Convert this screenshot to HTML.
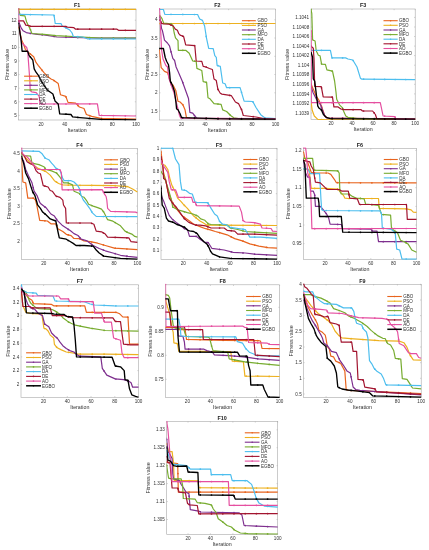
<!DOCTYPE html>
<html><head><meta charset="utf-8"><style>
html,body{margin:0;padding:0;background:#fff;width:429px;height:550px;overflow:hidden}
svg{display:block;font-family:"Liberation Sans",sans-serif}
text{fill:#303030}
text.t{fill:#1a1a1a}
svg{will-change:transform}
</style></head><body>
<svg width="429" height="550" viewBox="0 0 429 550">
<rect width="429" height="550" fill="#fff"/>
<text x="77.2" class="t" y="7.2" font-size="5.4" font-weight="bold" text-anchor="middle" fill="#222">F1</text>
<rect x="18.5" y="9.0" width="117.5" height="111.0" fill="#fff" stroke="#a8a8a8" stroke-width="0.6"/>
<path d="M41.1 120.0v-1.2M41.1 9.0v1.2" stroke="#a8a8a8" stroke-width="0.5"/>
<text x="41.1" y="125.6" font-size="4.6" text-anchor="middle" fill="#3a3a3a">20</text>
<path d="M64.8 120.0v-1.2M64.8 9.0v1.2" stroke="#a8a8a8" stroke-width="0.5"/>
<text x="64.8" y="125.6" font-size="4.6" text-anchor="middle" fill="#3a3a3a">40</text>
<path d="M88.5 120.0v-1.2M88.5 9.0v1.2" stroke="#a8a8a8" stroke-width="0.5"/>
<text x="88.5" y="125.6" font-size="4.6" text-anchor="middle" fill="#3a3a3a">60</text>
<path d="M112.3 120.0v-1.2M112.3 9.0v1.2" stroke="#a8a8a8" stroke-width="0.5"/>
<text x="112.3" y="125.6" font-size="4.6" text-anchor="middle" fill="#3a3a3a">80</text>
<path d="M136.0 120.0v-1.2M136.0 9.0v1.2" stroke="#a8a8a8" stroke-width="0.5"/>
<text x="136.0" y="125.6" font-size="4.6" text-anchor="middle" fill="#3a3a3a">100</text>
<path d="M18.5 115.4h1.2M136.0 115.4h-1.2" stroke="#a8a8a8" stroke-width="0.5"/>
<text x="16.7" y="117.1" font-size="4.6" text-anchor="end" fill="#3a3a3a">5</text>
<path d="M18.5 101.8h1.2M136.0 101.8h-1.2" stroke="#a8a8a8" stroke-width="0.5"/>
<text x="16.7" y="103.5" font-size="4.6" text-anchor="end" fill="#3a3a3a">6</text>
<path d="M18.5 88.2h1.2M136.0 88.2h-1.2" stroke="#a8a8a8" stroke-width="0.5"/>
<text x="16.7" y="89.9" font-size="4.6" text-anchor="end" fill="#3a3a3a">7</text>
<path d="M18.5 74.6h1.2M136.0 74.6h-1.2" stroke="#a8a8a8" stroke-width="0.5"/>
<text x="16.7" y="76.2" font-size="4.6" text-anchor="end" fill="#3a3a3a">8</text>
<path d="M18.5 61.0h1.2M136.0 61.0h-1.2" stroke="#a8a8a8" stroke-width="0.5"/>
<text x="16.7" y="62.6" font-size="4.6" text-anchor="end" fill="#3a3a3a">9</text>
<path d="M18.5 47.4h1.2M136.0 47.4h-1.2" stroke="#a8a8a8" stroke-width="0.5"/>
<text x="16.7" y="49.0" font-size="4.6" text-anchor="end" fill="#3a3a3a">10</text>
<path d="M18.5 33.8h1.2M136.0 33.8h-1.2" stroke="#a8a8a8" stroke-width="0.5"/>
<text x="16.7" y="35.4" font-size="4.6" text-anchor="end" fill="#3a3a3a">11</text>
<path d="M18.5 20.2h1.2M136.0 20.2h-1.2" stroke="#a8a8a8" stroke-width="0.5"/>
<text x="16.7" y="21.8" font-size="4.6" text-anchor="end" fill="#3a3a3a">12</text>
<text x="77.2" y="131.8" font-size="5.3" text-anchor="middle" fill="#3a3a3a">Iteration</text>
<text transform="translate(8.8 64.5) rotate(-90)" x="0" y="0" font-size="5.3" text-anchor="middle" fill="#3a3a3a">Fitness value</text>
<clipPath id="cF1"><rect x="18.5" y="8.0" width="118.0" height="112.5"/></clipPath>
<g clip-path="url(#cF1)" fill="none" stroke-linejoin="round">
<path d="M18.8 27.4 L21.6 40.0 L23.9 45.1 L25.3 49.3 L28.1 52.1 L33.7 56.8 L36.0 62.4 L38.4 65.6 L44.0 72.6 L48.6 77.3 L51.4 79.2 L52.9 79.7 L58.2 83.5 L60.5 94.8 L65.8 96.4 L68.0 102.4 L75.6 103.2 L79.4 107.0 L84.0 108.5 L86.4 114.5 L91.7 116.4 L100.8 118.3 L136.0 119.1" stroke="#E8641E" stroke-width="1.2"/>
<circle cx="18.5" cy="27.4" r="0.85" fill="#E8641E" stroke="none"/>
<circle cx="30.4" cy="54.0" r="0.85" fill="#E8641E" stroke="none"/>
<circle cx="42.2" cy="70.4" r="0.85" fill="#E8641E" stroke="none"/>
<circle cx="54.1" cy="80.6" r="0.85" fill="#E8641E" stroke="none"/>
<circle cx="66.0" cy="96.9" r="0.85" fill="#E8641E" stroke="none"/>
<circle cx="77.8" cy="105.4" r="0.85" fill="#E8641E" stroke="none"/>
<circle cx="89.7" cy="115.7" r="0.85" fill="#E8641E" stroke="none"/>
<circle cx="101.6" cy="118.3" r="0.85" fill="#E8641E" stroke="none"/>
<circle cx="113.4" cy="118.6" r="0.85" fill="#E8641E" stroke="none"/>
<circle cx="125.3" cy="118.9" r="0.85" fill="#E8641E" stroke="none"/>
<path d="M18.5 9.3 L136.0 9.3" stroke="#EDB120" stroke-width="1.2"/>
<circle cx="18.5" cy="9.3" r="0.85" fill="#EDB120" stroke="none"/>
<circle cx="30.4" cy="9.3" r="0.85" fill="#EDB120" stroke="none"/>
<circle cx="42.2" cy="9.3" r="0.85" fill="#EDB120" stroke="none"/>
<circle cx="54.1" cy="9.3" r="0.85" fill="#EDB120" stroke="none"/>
<circle cx="66.0" cy="9.3" r="0.85" fill="#EDB120" stroke="none"/>
<circle cx="77.8" cy="9.3" r="0.85" fill="#EDB120" stroke="none"/>
<circle cx="89.7" cy="9.3" r="0.85" fill="#EDB120" stroke="none"/>
<circle cx="101.6" cy="9.3" r="0.85" fill="#EDB120" stroke="none"/>
<circle cx="113.4" cy="9.3" r="0.85" fill="#EDB120" stroke="none"/>
<circle cx="125.3" cy="9.3" r="0.85" fill="#EDB120" stroke="none"/>
<path d="M18.5 21.0 L21.1 27.9 L23.0 30.7 L26.3 32.6 L30.9 33.5 L37.4 34.4 L44.0 34.9 L57.0 37.0 L100.0 38.2 L136.0 38.2" stroke="#7E2F8E" stroke-width="1.2"/>
<circle cx="18.5" cy="21.0" r="0.85" fill="#7E2F8E" stroke="none"/>
<circle cx="30.4" cy="33.4" r="0.85" fill="#7E2F8E" stroke="none"/>
<circle cx="42.2" cy="34.8" r="0.85" fill="#7E2F8E" stroke="none"/>
<circle cx="54.1" cy="36.5" r="0.85" fill="#7E2F8E" stroke="none"/>
<circle cx="66.0" cy="37.3" r="0.85" fill="#7E2F8E" stroke="none"/>
<circle cx="77.8" cy="37.6" r="0.85" fill="#7E2F8E" stroke="none"/>
<circle cx="89.7" cy="37.9" r="0.85" fill="#7E2F8E" stroke="none"/>
<circle cx="101.6" cy="38.2" r="0.85" fill="#7E2F8E" stroke="none"/>
<circle cx="113.4" cy="38.2" r="0.85" fill="#7E2F8E" stroke="none"/>
<circle cx="125.3" cy="38.2" r="0.85" fill="#7E2F8E" stroke="none"/>
<path d="M18.5 8.8 L20.2 15.3 L24.9 15.8 L26.7 22.3 L28.6 26.0 L30.5 29.8 L31.9 33.5 L44.0 34.4 L56.0 35.7 L100.0 38.0 L136.0 38.0" stroke="#77AC30" stroke-width="1.2"/>
<circle cx="18.5" cy="8.8" r="0.85" fill="#77AC30" stroke="none"/>
<circle cx="30.4" cy="29.5" r="0.85" fill="#77AC30" stroke="none"/>
<circle cx="42.2" cy="34.3" r="0.85" fill="#77AC30" stroke="none"/>
<circle cx="54.1" cy="35.5" r="0.85" fill="#77AC30" stroke="none"/>
<circle cx="66.0" cy="36.2" r="0.85" fill="#77AC30" stroke="none"/>
<circle cx="77.8" cy="36.8" r="0.85" fill="#77AC30" stroke="none"/>
<circle cx="89.7" cy="37.5" r="0.85" fill="#77AC30" stroke="none"/>
<circle cx="101.6" cy="38.0" r="0.85" fill="#77AC30" stroke="none"/>
<circle cx="113.4" cy="38.0" r="0.85" fill="#77AC30" stroke="none"/>
<circle cx="125.3" cy="38.0" r="0.85" fill="#77AC30" stroke="none"/>
<path d="M18.5 14.4 L54.0 15.0 L55.2 23.4 L61.0 23.6 L62.2 26.0 L65.7 27.7 L69.8 30.0 L72.1 33.0 L73.3 36.5 L82.6 37.0 L87.3 38.8 L136.0 39.0" stroke="#4DBEEE" stroke-width="1.2"/>
<circle cx="18.5" cy="14.4" r="0.85" fill="#4DBEEE" stroke="none"/>
<circle cx="30.4" cy="14.6" r="0.85" fill="#4DBEEE" stroke="none"/>
<circle cx="42.2" cy="14.8" r="0.85" fill="#4DBEEE" stroke="none"/>
<circle cx="54.1" cy="15.7" r="0.85" fill="#4DBEEE" stroke="none"/>
<circle cx="66.0" cy="27.9" r="0.85" fill="#4DBEEE" stroke="none"/>
<circle cx="77.8" cy="36.7" r="0.85" fill="#4DBEEE" stroke="none"/>
<circle cx="89.7" cy="38.8" r="0.85" fill="#4DBEEE" stroke="none"/>
<circle cx="101.6" cy="38.9" r="0.85" fill="#4DBEEE" stroke="none"/>
<circle cx="113.4" cy="38.9" r="0.85" fill="#4DBEEE" stroke="none"/>
<circle cx="125.3" cy="39.0" r="0.85" fill="#4DBEEE" stroke="none"/>
<path d="M18.5 20.9 L23.5 20.9 L25.8 25.1 L29.0 25.6 L30.0 26.3 L65.2 26.3 L67.5 27.1 L73.9 27.7 L75.6 29.2 L117.0 29.2 L118.5 30.3 L136.0 30.3" stroke="#A2142F" stroke-width="1.2"/>
<circle cx="18.5" cy="20.9" r="0.85" fill="#A2142F" stroke="none"/>
<circle cx="30.4" cy="26.3" r="0.85" fill="#A2142F" stroke="none"/>
<circle cx="42.2" cy="26.3" r="0.85" fill="#A2142F" stroke="none"/>
<circle cx="54.1" cy="26.3" r="0.85" fill="#A2142F" stroke="none"/>
<circle cx="66.0" cy="26.6" r="0.85" fill="#A2142F" stroke="none"/>
<circle cx="77.8" cy="29.2" r="0.85" fill="#A2142F" stroke="none"/>
<circle cx="89.7" cy="29.2" r="0.85" fill="#A2142F" stroke="none"/>
<circle cx="101.6" cy="29.2" r="0.85" fill="#A2142F" stroke="none"/>
<circle cx="113.4" cy="29.2" r="0.85" fill="#A2142F" stroke="none"/>
<circle cx="125.3" cy="30.3" r="0.85" fill="#A2142F" stroke="none"/>
<path d="M18.5 8.8 L18.8 19.0 L20.2 34.0 L21.6 42.8 L26.7 47.5 L27.7 51.2 L29.8 80.0 L30.2 90.3 L31.7 91.8 L36.2 92.6 L39.2 96.4 L40.0 104.0 L97.4 103.9 L99.2 115.3 L136.0 116.0" stroke="#E54FA0" stroke-width="1.2"/>
<circle cx="18.5" cy="8.8" r="0.85" fill="#E54FA0" stroke="none"/>
<circle cx="30.4" cy="90.5" r="0.85" fill="#E54FA0" stroke="none"/>
<circle cx="42.2" cy="104.0" r="0.85" fill="#E54FA0" stroke="none"/>
<circle cx="54.1" cy="104.0" r="0.85" fill="#E54FA0" stroke="none"/>
<circle cx="66.0" cy="104.0" r="0.85" fill="#E54FA0" stroke="none"/>
<circle cx="77.8" cy="103.9" r="0.85" fill="#E54FA0" stroke="none"/>
<circle cx="89.7" cy="103.9" r="0.85" fill="#E54FA0" stroke="none"/>
<circle cx="101.6" cy="115.3" r="0.85" fill="#E54FA0" stroke="none"/>
<circle cx="113.4" cy="115.6" r="0.85" fill="#E54FA0" stroke="none"/>
<circle cx="125.3" cy="115.8" r="0.85" fill="#E54FA0" stroke="none"/>
<path d="M18.5 23.2 L21.1 40.0 L22.1 51.2 L27.7 51.2 L29.0 55.4 L32.8 60.0 L34.2 68.9 L36.0 72.2 L38.4 75.4 L40.7 80.0 L43.8 85.0 L47.6 90.3 L52.9 94.0 L55.0 100.9 L58.2 104.0 L59.7 113.8 L71.0 114.5 L72.6 116.8 L80.0 117.6 L100.8 119.4 L136.0 119.8" stroke="#000000" stroke-width="1.35"/>
<circle cx="18.5" cy="23.2" r="0.85" fill="#000000" stroke="none"/>
<circle cx="30.4" cy="57.1" r="0.85" fill="#000000" stroke="none"/>
<circle cx="42.2" cy="82.5" r="0.85" fill="#000000" stroke="none"/>
<circle cx="54.1" cy="98.0" r="0.85" fill="#000000" stroke="none"/>
<circle cx="66.0" cy="114.2" r="0.85" fill="#000000" stroke="none"/>
<circle cx="77.8" cy="117.4" r="0.85" fill="#000000" stroke="none"/>
<circle cx="89.7" cy="118.4" r="0.85" fill="#000000" stroke="none"/>
<circle cx="101.6" cy="119.4" r="0.85" fill="#000000" stroke="none"/>
<circle cx="113.4" cy="119.5" r="0.85" fill="#000000" stroke="none"/>
<circle cx="125.3" cy="119.7" r="0.85" fill="#000000" stroke="none"/>
</g>
<path d="M24.1 76.2H37.9" stroke="#E8641E" stroke-width="1.1"/>
<circle cx="31.0" cy="76.2" r="0.8" fill="#E8641E"/>
<text x="39.2" y="77.9" font-size="4.5" fill="#222">GBO</text>
<path d="M24.1 80.8H37.9" stroke="#EDB120" stroke-width="1.1"/>
<circle cx="31.0" cy="80.8" r="0.8" fill="#EDB120"/>
<text x="39.2" y="82.5" font-size="4.5" fill="#222">PSO</text>
<path d="M24.1 85.3H37.9" stroke="#7E2F8E" stroke-width="1.1"/>
<circle cx="31.0" cy="85.3" r="0.8" fill="#7E2F8E"/>
<text x="39.2" y="87.0" font-size="4.5" fill="#222">GA</text>
<path d="M24.1 89.9H37.9" stroke="#77AC30" stroke-width="1.1"/>
<circle cx="31.0" cy="89.9" r="0.8" fill="#77AC30"/>
<text x="39.2" y="91.6" font-size="4.5" fill="#222">MFO</text>
<path d="M24.1 94.5H37.9" stroke="#4DBEEE" stroke-width="1.1"/>
<circle cx="31.0" cy="94.5" r="0.8" fill="#4DBEEE"/>
<text x="39.2" y="96.2" font-size="4.5" fill="#222">DA</text>
<path d="M24.1 99.1H37.9" stroke="#A2142F" stroke-width="1.1"/>
<circle cx="31.0" cy="99.1" r="0.8" fill="#A2142F"/>
<text x="39.2" y="100.8" font-size="4.5" fill="#222">DE</text>
<path d="M24.1 103.6H37.9" stroke="#E54FA0" stroke-width="1.1"/>
<circle cx="31.0" cy="103.6" r="0.8" fill="#E54FA0"/>
<text x="39.2" y="105.3" font-size="4.5" fill="#222">AO</text>
<path d="M24.1 108.2H37.9" stroke="#000000" stroke-width="1.5"/>
<circle cx="31.0" cy="108.2" r="0.8" fill="#000000"/>
<text x="39.2" y="109.9" font-size="4.5" fill="#222">EGBO</text>
<text x="217.4" class="t" y="7.2" font-size="5.4" font-weight="bold" text-anchor="middle" fill="#222">F2</text>
<rect x="159.3" y="9.0" width="116.2" height="111.0" fill="#fff" stroke="#a8a8a8" stroke-width="0.6"/>
<path d="M181.6 120.0v-1.2M181.6 9.0v1.2" stroke="#a8a8a8" stroke-width="0.5"/>
<text x="181.6" y="125.6" font-size="4.6" text-anchor="middle" fill="#3a3a3a">20</text>
<path d="M205.1 120.0v-1.2M205.1 9.0v1.2" stroke="#a8a8a8" stroke-width="0.5"/>
<text x="205.1" y="125.6" font-size="4.6" text-anchor="middle" fill="#3a3a3a">40</text>
<path d="M228.6 120.0v-1.2M228.6 9.0v1.2" stroke="#a8a8a8" stroke-width="0.5"/>
<text x="228.6" y="125.6" font-size="4.6" text-anchor="middle" fill="#3a3a3a">60</text>
<path d="M252.0 120.0v-1.2M252.0 9.0v1.2" stroke="#a8a8a8" stroke-width="0.5"/>
<text x="252.0" y="125.6" font-size="4.6" text-anchor="middle" fill="#3a3a3a">80</text>
<path d="M275.5 120.0v-1.2M275.5 9.0v1.2" stroke="#a8a8a8" stroke-width="0.5"/>
<text x="275.5" y="125.6" font-size="4.6" text-anchor="middle" fill="#3a3a3a">100</text>
<path d="M159.3 111.0h1.2M275.5 111.0h-1.2" stroke="#a8a8a8" stroke-width="0.5"/>
<text x="157.5" y="112.7" font-size="4.6" text-anchor="end" fill="#3a3a3a">1.5</text>
<path d="M159.3 92.8h1.2M275.5 92.8h-1.2" stroke="#a8a8a8" stroke-width="0.5"/>
<text x="157.5" y="94.4" font-size="4.6" text-anchor="end" fill="#3a3a3a">2</text>
<path d="M159.3 74.5h1.2M275.5 74.5h-1.2" stroke="#a8a8a8" stroke-width="0.5"/>
<text x="157.5" y="76.2" font-size="4.6" text-anchor="end" fill="#3a3a3a">2.5</text>
<path d="M159.3 56.3h1.2M275.5 56.3h-1.2" stroke="#a8a8a8" stroke-width="0.5"/>
<text x="157.5" y="57.9" font-size="4.6" text-anchor="end" fill="#3a3a3a">3</text>
<path d="M159.3 38.0h1.2M275.5 38.0h-1.2" stroke="#a8a8a8" stroke-width="0.5"/>
<text x="157.5" y="39.7" font-size="4.6" text-anchor="end" fill="#3a3a3a">3.5</text>
<path d="M159.3 19.8h1.2M275.5 19.8h-1.2" stroke="#a8a8a8" stroke-width="0.5"/>
<text x="157.5" y="21.4" font-size="4.6" text-anchor="end" fill="#3a3a3a">4</text>
<text x="217.4" y="131.8" font-size="5.3" text-anchor="middle" fill="#3a3a3a">Iteration</text>
<text transform="translate(148.7 64.5) rotate(-90)" x="0" y="0" font-size="5.3" text-anchor="middle" fill="#3a3a3a">Fitness value</text>
<clipPath id="cF2"><rect x="159.3" y="8.0" width="116.7" height="112.5"/></clipPath>
<g clip-path="url(#cF2)" fill="none" stroke-linejoin="round">
<path d="M159.3 50.0 L161.2 67.7 L162.6 69.2 L164.5 71.4 L167.5 72.6 L171.0 83.1 L173.1 85.2 L175.9 90.8 L178.0 101.3 L180.1 102.0 L182.9 104.8 L185.0 109.7 L186.4 117.3 L190.0 118.3 L275.5 119.0" stroke="#E8641E" stroke-width="1.2"/>
<circle cx="159.3" cy="50.0" r="0.85" fill="#E8641E" stroke="none"/>
<circle cx="171.0" cy="83.1" r="0.85" fill="#E8641E" stroke="none"/>
<circle cx="182.8" cy="104.7" r="0.85" fill="#E8641E" stroke="none"/>
<circle cx="194.5" cy="118.3" r="0.85" fill="#E8641E" stroke="none"/>
<circle cx="206.2" cy="118.4" r="0.85" fill="#E8641E" stroke="none"/>
<circle cx="218.0" cy="118.5" r="0.85" fill="#E8641E" stroke="none"/>
<circle cx="229.7" cy="118.6" r="0.85" fill="#E8641E" stroke="none"/>
<circle cx="241.5" cy="118.7" r="0.85" fill="#E8641E" stroke="none"/>
<circle cx="253.2" cy="118.8" r="0.85" fill="#E8641E" stroke="none"/>
<circle cx="264.9" cy="118.9" r="0.85" fill="#E8641E" stroke="none"/>
<path d="M159.3 23.5 L275.5 23.5" stroke="#EDB120" stroke-width="1.2"/>
<circle cx="159.3" cy="23.5" r="0.85" fill="#EDB120" stroke="none"/>
<circle cx="171.0" cy="23.5" r="0.85" fill="#EDB120" stroke="none"/>
<circle cx="182.8" cy="23.5" r="0.85" fill="#EDB120" stroke="none"/>
<circle cx="194.5" cy="23.5" r="0.85" fill="#EDB120" stroke="none"/>
<circle cx="206.2" cy="23.5" r="0.85" fill="#EDB120" stroke="none"/>
<circle cx="218.0" cy="23.5" r="0.85" fill="#EDB120" stroke="none"/>
<circle cx="229.7" cy="23.5" r="0.85" fill="#EDB120" stroke="none"/>
<circle cx="241.5" cy="23.5" r="0.85" fill="#EDB120" stroke="none"/>
<circle cx="253.2" cy="23.5" r="0.85" fill="#EDB120" stroke="none"/>
<circle cx="264.9" cy="23.5" r="0.85" fill="#EDB120" stroke="none"/>
<path d="M159.9 16.9 L161.6 28.8 L162.3 30.2 L163.4 35.0 L164.5 40.1 L167.4 43.0 L169.5 45.9 L171.0 51.7 L172.8 58.3 L174.6 60.5 L176.1 67.0 L178.0 71.2 L182.2 81.0 L185.7 90.8 L188.5 98.5 L189.9 112.4 L192.7 113.1 L194.8 115.9 L196.9 118.5 L275.5 119.0" stroke="#7E2F8E" stroke-width="1.2"/>
<circle cx="159.3" cy="16.9" r="0.85" fill="#7E2F8E" stroke="none"/>
<circle cx="171.0" cy="51.8" r="0.85" fill="#7E2F8E" stroke="none"/>
<circle cx="182.8" cy="82.6" r="0.85" fill="#7E2F8E" stroke="none"/>
<circle cx="194.5" cy="115.5" r="0.85" fill="#7E2F8E" stroke="none"/>
<circle cx="206.2" cy="118.6" r="0.85" fill="#7E2F8E" stroke="none"/>
<circle cx="218.0" cy="118.6" r="0.85" fill="#7E2F8E" stroke="none"/>
<circle cx="229.7" cy="118.7" r="0.85" fill="#7E2F8E" stroke="none"/>
<circle cx="241.5" cy="118.8" r="0.85" fill="#7E2F8E" stroke="none"/>
<circle cx="253.2" cy="118.9" r="0.85" fill="#7E2F8E" stroke="none"/>
<circle cx="264.9" cy="118.9" r="0.85" fill="#7E2F8E" stroke="none"/>
<path d="M159.9 15.5 L162.0 18.6 L163.7 23.2 L171.1 23.9 L172.8 25.3 L174.2 33.0 L175.5 37.9 L178.0 40.7 L178.3 50.3 L185.7 50.3 L189.2 53.3 L192.7 61.0 L196.2 61.4 L196.9 68.4 L201.8 70.5 L203.2 81.7 L206.6 82.4 L208.0 97.8 L210.0 98.8 L214.0 103.6 L221.1 104.4 L222.7 109.9 L226.6 111.5 L230.6 115.5 L233.8 117.8 L241.7 119.0 L275.5 119.0" stroke="#77AC30" stroke-width="1.2"/>
<circle cx="159.3" cy="15.5" r="0.85" fill="#77AC30" stroke="none"/>
<circle cx="171.0" cy="23.9" r="0.85" fill="#77AC30" stroke="none"/>
<circle cx="182.8" cy="50.3" r="0.85" fill="#77AC30" stroke="none"/>
<circle cx="194.5" cy="61.2" r="0.85" fill="#77AC30" stroke="none"/>
<circle cx="206.2" cy="82.3" r="0.85" fill="#77AC30" stroke="none"/>
<circle cx="218.0" cy="104.0" r="0.85" fill="#77AC30" stroke="none"/>
<circle cx="229.7" cy="114.6" r="0.85" fill="#77AC30" stroke="none"/>
<circle cx="241.5" cy="119.0" r="0.85" fill="#77AC30" stroke="none"/>
<circle cx="253.2" cy="119.0" r="0.85" fill="#77AC30" stroke="none"/>
<circle cx="264.9" cy="119.0" r="0.85" fill="#77AC30" stroke="none"/>
<path d="M159.5 9.5 L163.4 9.5 L164.8 14.3 L197.6 14.5 L199.7 19.0 L202.5 20.4 L204.6 26.0 L206.6 38.6 L208.7 48.4 L213.2 48.6 L214.8 55.7 L216.3 57.3 L217.1 65.5 L220.3 66.3 L222.7 83.0 L225.1 83.8 L226.6 87.7 L240.1 87.7 L244.1 101.2 L252.8 101.5 L256.0 107.5 L260.7 114.7 L264.7 117.8 L275.5 118.6" stroke="#4DBEEE" stroke-width="1.2"/>
<circle cx="159.3" cy="9.5" r="0.85" fill="#4DBEEE" stroke="none"/>
<circle cx="171.0" cy="14.3" r="0.85" fill="#4DBEEE" stroke="none"/>
<circle cx="182.8" cy="14.4" r="0.85" fill="#4DBEEE" stroke="none"/>
<circle cx="194.5" cy="14.5" r="0.85" fill="#4DBEEE" stroke="none"/>
<circle cx="206.2" cy="36.4" r="0.85" fill="#4DBEEE" stroke="none"/>
<circle cx="218.0" cy="65.7" r="0.85" fill="#4DBEEE" stroke="none"/>
<circle cx="229.7" cy="87.7" r="0.85" fill="#4DBEEE" stroke="none"/>
<circle cx="241.5" cy="92.3" r="0.85" fill="#4DBEEE" stroke="none"/>
<circle cx="253.2" cy="102.2" r="0.85" fill="#4DBEEE" stroke="none"/>
<circle cx="264.9" cy="117.8" r="0.85" fill="#4DBEEE" stroke="none"/>
<path d="M159.5 20.0 L160.9 21.1 L161.6 23.2 L163.4 23.9 L169.0 24.2 L173.2 26.0 L175.3 29.1 L177.4 30.2 L178.8 33.7 L180.1 35.1 L183.6 36.5 L185.7 44.9 L194.8 45.6 L196.2 61.0 L201.8 61.4 L203.2 66.3 L206.0 67.0 L209.4 68.5 L212.4 69.5 L214.0 79.0 L216.3 80.6 L217.9 89.3 L220.3 93.3 L221.9 94.1 L231.4 95.7 L235.4 102.0 L238.5 103.6 L241.7 109.9 L243.3 115.5 L256.0 117.0 L263.9 118.6 L275.5 119.0" stroke="#A2142F" stroke-width="1.2"/>
<circle cx="159.3" cy="20.0" r="0.85" fill="#A2142F" stroke="none"/>
<circle cx="171.0" cy="25.1" r="0.85" fill="#A2142F" stroke="none"/>
<circle cx="182.8" cy="36.2" r="0.85" fill="#A2142F" stroke="none"/>
<circle cx="194.5" cy="45.6" r="0.85" fill="#A2142F" stroke="none"/>
<circle cx="206.2" cy="67.1" r="0.85" fill="#A2142F" stroke="none"/>
<circle cx="218.0" cy="89.4" r="0.85" fill="#A2142F" stroke="none"/>
<circle cx="229.7" cy="95.4" r="0.85" fill="#A2142F" stroke="none"/>
<circle cx="241.5" cy="109.4" r="0.85" fill="#A2142F" stroke="none"/>
<circle cx="253.2" cy="116.7" r="0.85" fill="#A2142F" stroke="none"/>
<circle cx="264.9" cy="118.6" r="0.85" fill="#A2142F" stroke="none"/>
<path d="M159.5 8.5 L160.9 35.0 L161.5 49.5 L163.0 59.0 L165.9 65.5 L167.5 67.0 L168.9 78.2 L171.7 86.6 L173.8 92.2 L176.6 103.4 L178.0 109.0 L179.4 115.2 L180.8 118.2 L275.5 118.8" stroke="#E54FA0" stroke-width="1.2"/>
<circle cx="159.3" cy="8.5" r="0.85" fill="#E54FA0" stroke="none"/>
<circle cx="171.0" cy="84.6" r="0.85" fill="#E54FA0" stroke="none"/>
<circle cx="182.8" cy="118.2" r="0.85" fill="#E54FA0" stroke="none"/>
<circle cx="194.5" cy="118.3" r="0.85" fill="#E54FA0" stroke="none"/>
<circle cx="206.2" cy="118.4" r="0.85" fill="#E54FA0" stroke="none"/>
<circle cx="218.0" cy="118.4" r="0.85" fill="#E54FA0" stroke="none"/>
<circle cx="229.7" cy="118.5" r="0.85" fill="#E54FA0" stroke="none"/>
<circle cx="241.5" cy="118.6" r="0.85" fill="#E54FA0" stroke="none"/>
<circle cx="253.2" cy="118.7" r="0.85" fill="#E54FA0" stroke="none"/>
<circle cx="264.9" cy="118.7" r="0.85" fill="#E54FA0" stroke="none"/>
<path d="M159.4 48.5 L163.4 48.5 L165.2 57.5 L166.6 61.2 L168.5 64.8 L169.6 72.6 L170.3 81.0 L172.4 85.2 L174.5 91.5 L175.9 102.0 L176.6 109.0 L178.0 109.7 L180.1 113.8 L181.5 117.6 L217.0 118.7 L275.5 119.2" stroke="#000000" stroke-width="1.35"/>
<circle cx="159.3" cy="48.5" r="0.85" fill="#000000" stroke="none"/>
<circle cx="171.0" cy="82.5" r="0.85" fill="#000000" stroke="none"/>
<circle cx="182.8" cy="117.6" r="0.85" fill="#000000" stroke="none"/>
<circle cx="194.5" cy="118.0" r="0.85" fill="#000000" stroke="none"/>
<circle cx="206.2" cy="118.4" r="0.85" fill="#000000" stroke="none"/>
<circle cx="218.0" cy="118.7" r="0.85" fill="#000000" stroke="none"/>
<circle cx="229.7" cy="118.8" r="0.85" fill="#000000" stroke="none"/>
<circle cx="241.5" cy="118.9" r="0.85" fill="#000000" stroke="none"/>
<circle cx="253.2" cy="119.0" r="0.85" fill="#000000" stroke="none"/>
<circle cx="264.9" cy="119.1" r="0.85" fill="#000000" stroke="none"/>
</g>
<path d="M241.9 20.7H255.9" stroke="#E8641E" stroke-width="1.1"/>
<circle cx="248.9" cy="20.7" r="0.8" fill="#E8641E"/>
<text x="257.6" y="22.4" font-size="4.5" fill="#222">GBO</text>
<path d="M241.9 25.4H255.9" stroke="#EDB120" stroke-width="1.1"/>
<circle cx="248.9" cy="25.4" r="0.8" fill="#EDB120"/>
<text x="257.6" y="27.1" font-size="4.5" fill="#222">PSO</text>
<path d="M241.9 30.0H255.9" stroke="#7E2F8E" stroke-width="1.1"/>
<circle cx="248.9" cy="30.0" r="0.8" fill="#7E2F8E"/>
<text x="257.6" y="31.7" font-size="4.5" fill="#222">GA</text>
<path d="M241.9 34.7H255.9" stroke="#77AC30" stroke-width="1.1"/>
<circle cx="248.9" cy="34.7" r="0.8" fill="#77AC30"/>
<text x="257.6" y="36.4" font-size="4.5" fill="#222">MFO</text>
<path d="M241.9 39.3H255.9" stroke="#4DBEEE" stroke-width="1.1"/>
<circle cx="248.9" cy="39.3" r="0.8" fill="#4DBEEE"/>
<text x="257.6" y="41.0" font-size="4.5" fill="#222">DA</text>
<path d="M241.9 44.0H255.9" stroke="#A2142F" stroke-width="1.1"/>
<circle cx="248.9" cy="44.0" r="0.8" fill="#A2142F"/>
<text x="257.6" y="45.7" font-size="4.5" fill="#222">DE</text>
<path d="M241.9 48.7H255.9" stroke="#E54FA0" stroke-width="1.1"/>
<circle cx="248.9" cy="48.7" r="0.8" fill="#E54FA0"/>
<text x="257.6" y="50.4" font-size="4.5" fill="#222">AO</text>
<path d="M241.9 53.3H255.9" stroke="#000000" stroke-width="1.5"/>
<circle cx="248.9" cy="53.3" r="0.8" fill="#000000"/>
<text x="257.6" y="55.0" font-size="4.5" fill="#222">EGBO</text>
<text x="363.1" class="t" y="7.2" font-size="5.4" font-weight="bold" text-anchor="middle" fill="#222">F3</text>
<rect x="311.0" y="9.0" width="104.2" height="110.6" fill="#fff" stroke="#a8a8a8" stroke-width="0.6"/>
<path d="M331.0 119.6v-1.2M331.0 9.0v1.2" stroke="#a8a8a8" stroke-width="0.5"/>
<text x="331.0" y="125.2" font-size="4.6" text-anchor="middle" fill="#3a3a3a">20</text>
<path d="M352.0 119.6v-1.2M352.0 9.0v1.2" stroke="#a8a8a8" stroke-width="0.5"/>
<text x="352.0" y="125.2" font-size="4.6" text-anchor="middle" fill="#3a3a3a">40</text>
<path d="M373.1 119.6v-1.2M373.1 9.0v1.2" stroke="#a8a8a8" stroke-width="0.5"/>
<text x="373.1" y="125.2" font-size="4.6" text-anchor="middle" fill="#3a3a3a">60</text>
<path d="M394.1 119.6v-1.2M394.1 9.0v1.2" stroke="#a8a8a8" stroke-width="0.5"/>
<text x="394.1" y="125.2" font-size="4.6" text-anchor="middle" fill="#3a3a3a">80</text>
<path d="M415.2 119.6v-1.2M415.2 9.0v1.2" stroke="#a8a8a8" stroke-width="0.5"/>
<text x="415.2" y="125.2" font-size="4.6" text-anchor="middle" fill="#3a3a3a">100</text>
<path d="M311.0 113.0h1.2M415.2 113.0h-1.2" stroke="#a8a8a8" stroke-width="0.5"/>
<text x="309.2" y="114.7" font-size="4.6" text-anchor="end" fill="#3a3a3a">1.1039</text>
<path d="M311.0 103.4h1.2M415.2 103.4h-1.2" stroke="#a8a8a8" stroke-width="0.5"/>
<text x="309.2" y="105.1" font-size="4.6" text-anchor="end" fill="#3a3a3a">1.10392</text>
<path d="M311.0 93.9h1.2M415.2 93.9h-1.2" stroke="#a8a8a8" stroke-width="0.5"/>
<text x="309.2" y="95.5" font-size="4.6" text-anchor="end" fill="#3a3a3a">1.10394</text>
<path d="M311.0 84.3h1.2M415.2 84.3h-1.2" stroke="#a8a8a8" stroke-width="0.5"/>
<text x="309.2" y="86.0" font-size="4.6" text-anchor="end" fill="#3a3a3a">1.10396</text>
<path d="M311.0 74.8h1.2M415.2 74.8h-1.2" stroke="#a8a8a8" stroke-width="0.5"/>
<text x="309.2" y="76.4" font-size="4.6" text-anchor="end" fill="#3a3a3a">1.10398</text>
<path d="M311.0 65.2h1.2M415.2 65.2h-1.2" stroke="#a8a8a8" stroke-width="0.5"/>
<text x="309.2" y="66.8" font-size="4.6" text-anchor="end" fill="#3a3a3a">1.104</text>
<path d="M311.0 55.6h1.2M415.2 55.6h-1.2" stroke="#a8a8a8" stroke-width="0.5"/>
<text x="309.2" y="57.3" font-size="4.6" text-anchor="end" fill="#3a3a3a">1.10402</text>
<path d="M311.0 46.1h1.2M415.2 46.1h-1.2" stroke="#a8a8a8" stroke-width="0.5"/>
<text x="309.2" y="47.7" font-size="4.6" text-anchor="end" fill="#3a3a3a">1.10404</text>
<path d="M311.0 36.5h1.2M415.2 36.5h-1.2" stroke="#a8a8a8" stroke-width="0.5"/>
<text x="309.2" y="38.2" font-size="4.6" text-anchor="end" fill="#3a3a3a">1.10406</text>
<path d="M311.0 27.0h1.2M415.2 27.0h-1.2" stroke="#a8a8a8" stroke-width="0.5"/>
<text x="309.2" y="28.6" font-size="4.6" text-anchor="end" fill="#3a3a3a">1.10408</text>
<path d="M311.0 17.4h1.2M415.2 17.4h-1.2" stroke="#a8a8a8" stroke-width="0.5"/>
<text x="309.2" y="19.0" font-size="4.6" text-anchor="end" fill="#3a3a3a">1.1041</text>
<text x="363.1" y="131.4" font-size="5.3" text-anchor="middle" fill="#3a3a3a">Iteration</text>
<text transform="translate(289.0 64.3) rotate(-90)" x="0" y="0" font-size="5.3" text-anchor="middle" fill="#3a3a3a">Fitness value</text>
<clipPath id="cF3"><rect x="311.0" y="8.0" width="104.7" height="112.1"/></clipPath>
<g clip-path="url(#cF3)" fill="none" stroke-linejoin="round">
<path d="M311.1 83.9 L312.5 87.5 L314.3 91.5 L316.4 96.4 L319.2 100.6 L322.0 107.6 L324.8 116.0 L327.6 118.0 L415.2 119.2" stroke="#E8641E" stroke-width="1.2"/>
<circle cx="311.0" cy="83.9" r="0.85" fill="#E8641E" stroke="none"/>
<circle cx="321.5" cy="106.4" r="0.85" fill="#E8641E" stroke="none"/>
<circle cx="332.1" cy="118.1" r="0.85" fill="#E8641E" stroke="none"/>
<circle cx="342.6" cy="118.2" r="0.85" fill="#E8641E" stroke="none"/>
<circle cx="353.1" cy="118.3" r="0.85" fill="#E8641E" stroke="none"/>
<circle cx="363.6" cy="118.5" r="0.85" fill="#E8641E" stroke="none"/>
<circle cx="374.2" cy="118.6" r="0.85" fill="#E8641E" stroke="none"/>
<circle cx="384.7" cy="118.8" r="0.85" fill="#E8641E" stroke="none"/>
<circle cx="395.2" cy="118.9" r="0.85" fill="#E8641E" stroke="none"/>
<circle cx="405.7" cy="119.1" r="0.85" fill="#E8641E" stroke="none"/>
<path d="M311.1 102.0 L312.2 110.3 L314.3 116.0 L317.8 119.4 L326.2 119.8 L415.2 119.8" stroke="#EDB120" stroke-width="1.2"/>
<circle cx="311.0" cy="102.0" r="0.85" fill="#EDB120" stroke="none"/>
<circle cx="321.5" cy="119.6" r="0.85" fill="#EDB120" stroke="none"/>
<circle cx="332.1" cy="119.8" r="0.85" fill="#EDB120" stroke="none"/>
<circle cx="342.6" cy="119.8" r="0.85" fill="#EDB120" stroke="none"/>
<circle cx="353.1" cy="119.8" r="0.85" fill="#EDB120" stroke="none"/>
<circle cx="363.6" cy="119.8" r="0.85" fill="#EDB120" stroke="none"/>
<circle cx="374.2" cy="119.8" r="0.85" fill="#EDB120" stroke="none"/>
<circle cx="384.7" cy="119.8" r="0.85" fill="#EDB120" stroke="none"/>
<circle cx="395.2" cy="119.8" r="0.85" fill="#EDB120" stroke="none"/>
<circle cx="405.7" cy="119.8" r="0.85" fill="#EDB120" stroke="none"/>
<path d="M311.1 86.1 L312.9 92.2 L316.4 99.2 L320.6 104.8 L322.0 109.0 L324.8 116.0 L326.9 118.0 L415.2 119.2" stroke="#7E2F8E" stroke-width="1.2"/>
<circle cx="311.0" cy="86.1" r="0.85" fill="#7E2F8E" stroke="none"/>
<circle cx="321.5" cy="107.6" r="0.85" fill="#7E2F8E" stroke="none"/>
<circle cx="332.1" cy="118.1" r="0.85" fill="#7E2F8E" stroke="none"/>
<circle cx="342.6" cy="118.2" r="0.85" fill="#7E2F8E" stroke="none"/>
<circle cx="353.1" cy="118.4" r="0.85" fill="#7E2F8E" stroke="none"/>
<circle cx="363.6" cy="118.5" r="0.85" fill="#7E2F8E" stroke="none"/>
<circle cx="374.2" cy="118.6" r="0.85" fill="#7E2F8E" stroke="none"/>
<circle cx="384.7" cy="118.8" r="0.85" fill="#7E2F8E" stroke="none"/>
<circle cx="395.2" cy="118.9" r="0.85" fill="#7E2F8E" stroke="none"/>
<circle cx="405.7" cy="119.1" r="0.85" fill="#7E2F8E" stroke="none"/>
<path d="M311.0 9.4 L311.8 13.7 L312.6 39.9 L315.1 41.0 L316.2 50.8 L318.4 55.2 L320.0 55.7 L321.6 64.2 L325.4 64.4 L326.9 69.8 L332.5 71.2 L334.6 81.0 L336.0 92.2 L336.7 99.2 L339.5 104.8 L342.3 107.6 L344.4 113.1 L345.8 115.9 L347.9 117.3 L357.0 118.7 L415.2 119.3" stroke="#77AC30" stroke-width="1.2"/>
<circle cx="311.0" cy="9.4" r="0.85" fill="#77AC30" stroke="none"/>
<circle cx="321.5" cy="63.8" r="0.85" fill="#77AC30" stroke="none"/>
<circle cx="332.1" cy="71.1" r="0.85" fill="#77AC30" stroke="none"/>
<circle cx="342.6" cy="108.3" r="0.85" fill="#77AC30" stroke="none"/>
<circle cx="353.1" cy="118.1" r="0.85" fill="#77AC30" stroke="none"/>
<circle cx="363.6" cy="118.8" r="0.85" fill="#77AC30" stroke="none"/>
<circle cx="374.2" cy="118.9" r="0.85" fill="#77AC30" stroke="none"/>
<circle cx="384.7" cy="119.0" r="0.85" fill="#77AC30" stroke="none"/>
<circle cx="395.2" cy="119.1" r="0.85" fill="#77AC30" stroke="none"/>
<circle cx="405.7" cy="119.2" r="0.85" fill="#77AC30" stroke="none"/>
<path d="M311.0 50.3 L330.4 50.3 L332.0 57.9 L345.6 57.9 L348.0 59.0 L352.8 60.0 L357.0 67.0 L360.4 78.2 L361.8 79.2 L415.2 79.6" stroke="#4DBEEE" stroke-width="1.2"/>
<circle cx="311.0" cy="50.3" r="0.85" fill="#4DBEEE" stroke="none"/>
<circle cx="321.5" cy="50.3" r="0.85" fill="#4DBEEE" stroke="none"/>
<circle cx="332.1" cy="57.9" r="0.85" fill="#4DBEEE" stroke="none"/>
<circle cx="342.6" cy="57.9" r="0.85" fill="#4DBEEE" stroke="none"/>
<circle cx="353.1" cy="60.5" r="0.85" fill="#4DBEEE" stroke="none"/>
<circle cx="363.6" cy="79.2" r="0.85" fill="#4DBEEE" stroke="none"/>
<circle cx="374.2" cy="79.3" r="0.85" fill="#4DBEEE" stroke="none"/>
<circle cx="384.7" cy="79.4" r="0.85" fill="#4DBEEE" stroke="none"/>
<circle cx="395.2" cy="79.5" r="0.85" fill="#4DBEEE" stroke="none"/>
<circle cx="405.7" cy="79.5" r="0.85" fill="#4DBEEE" stroke="none"/>
<path d="M311.0 46.1 L313.3 48.3 L314.0 58.5 L314.7 86.3 L321.3 86.6 L323.2 96.8 L332.5 97.1 L333.9 106.9 L338.1 106.9 L340.9 109.0 L344.4 109.7 L361.1 109.7 L362.5 111.0 L372.6 111.0 L375.4 114.5 L376.8 118.7 L415.2 119.2" stroke="#A2142F" stroke-width="1.2"/>
<circle cx="311.0" cy="46.1" r="0.85" fill="#A2142F" stroke="none"/>
<circle cx="321.5" cy="87.8" r="0.85" fill="#A2142F" stroke="none"/>
<circle cx="332.1" cy="97.1" r="0.85" fill="#A2142F" stroke="none"/>
<circle cx="342.6" cy="109.3" r="0.85" fill="#A2142F" stroke="none"/>
<circle cx="353.1" cy="109.7" r="0.85" fill="#A2142F" stroke="none"/>
<circle cx="363.6" cy="111.0" r="0.85" fill="#A2142F" stroke="none"/>
<circle cx="374.2" cy="112.9" r="0.85" fill="#A2142F" stroke="none"/>
<circle cx="384.7" cy="118.8" r="0.85" fill="#A2142F" stroke="none"/>
<circle cx="395.2" cy="118.9" r="0.85" fill="#A2142F" stroke="none"/>
<circle cx="405.7" cy="119.1" r="0.85" fill="#A2142F" stroke="none"/>
<path d="M311.1 30.8 L311.3 102.7 L380.3 102.7 L383.1 116.0 L395.0 116.6 L395.7 119.0 L415.2 119.2" stroke="#E54FA0" stroke-width="1.2"/>
<circle cx="311.0" cy="30.8" r="0.85" fill="#E54FA0" stroke="none"/>
<circle cx="321.5" cy="102.7" r="0.85" fill="#E54FA0" stroke="none"/>
<circle cx="332.1" cy="102.7" r="0.85" fill="#E54FA0" stroke="none"/>
<circle cx="342.6" cy="102.7" r="0.85" fill="#E54FA0" stroke="none"/>
<circle cx="353.1" cy="102.7" r="0.85" fill="#E54FA0" stroke="none"/>
<circle cx="363.6" cy="102.7" r="0.85" fill="#E54FA0" stroke="none"/>
<circle cx="374.2" cy="102.7" r="0.85" fill="#E54FA0" stroke="none"/>
<circle cx="384.7" cy="116.1" r="0.85" fill="#E54FA0" stroke="none"/>
<circle cx="395.2" cy="117.3" r="0.85" fill="#E54FA0" stroke="none"/>
<circle cx="405.7" cy="119.1" r="0.85" fill="#E54FA0" stroke="none"/>
<path d="M311.1 52.6 L312.5 57.0 L313.3 78.8 L314.7 81.0 L316.2 93.4 L317.8 106.2 L319.2 108.3 L321.3 109.7 L323.4 114.5 L326.2 117.3 L330.4 118.7 L415.2 119.2" stroke="#000000" stroke-width="1.35"/>
<circle cx="311.0" cy="52.6" r="0.85" fill="#000000" stroke="none"/>
<circle cx="321.5" cy="110.2" r="0.85" fill="#000000" stroke="none"/>
<circle cx="332.1" cy="118.7" r="0.85" fill="#000000" stroke="none"/>
<circle cx="342.6" cy="118.8" r="0.85" fill="#000000" stroke="none"/>
<circle cx="353.1" cy="118.8" r="0.85" fill="#000000" stroke="none"/>
<circle cx="363.6" cy="118.9" r="0.85" fill="#000000" stroke="none"/>
<circle cx="374.2" cy="119.0" r="0.85" fill="#000000" stroke="none"/>
<circle cx="384.7" cy="119.0" r="0.85" fill="#000000" stroke="none"/>
<circle cx="395.2" cy="119.1" r="0.85" fill="#000000" stroke="none"/>
<circle cx="405.7" cy="119.1" r="0.85" fill="#000000" stroke="none"/>
</g>
<path d="M383.5 20.7H397.7" stroke="#E8641E" stroke-width="1.1"/>
<circle cx="390.6" cy="20.7" r="0.8" fill="#E8641E"/>
<text x="399.1" y="22.4" font-size="4.5" fill="#222">GBO</text>
<path d="M383.5 25.3H397.7" stroke="#EDB120" stroke-width="1.1"/>
<circle cx="390.6" cy="25.3" r="0.8" fill="#EDB120"/>
<text x="399.1" y="27.0" font-size="4.5" fill="#222">PSO</text>
<path d="M383.5 30.0H397.7" stroke="#7E2F8E" stroke-width="1.1"/>
<circle cx="390.6" cy="30.0" r="0.8" fill="#7E2F8E"/>
<text x="399.1" y="31.7" font-size="4.5" fill="#222">GA</text>
<path d="M383.5 34.6H397.7" stroke="#77AC30" stroke-width="1.1"/>
<circle cx="390.6" cy="34.6" r="0.8" fill="#77AC30"/>
<text x="399.1" y="36.3" font-size="4.5" fill="#222">MFO</text>
<path d="M383.5 39.2H397.7" stroke="#4DBEEE" stroke-width="1.1"/>
<circle cx="390.6" cy="39.2" r="0.8" fill="#4DBEEE"/>
<text x="399.1" y="40.9" font-size="4.5" fill="#222">DA</text>
<path d="M383.5 43.8H397.7" stroke="#A2142F" stroke-width="1.1"/>
<circle cx="390.6" cy="43.8" r="0.8" fill="#A2142F"/>
<text x="399.1" y="45.5" font-size="4.5" fill="#222">DE</text>
<path d="M383.5 48.5H397.7" stroke="#E54FA0" stroke-width="1.1"/>
<circle cx="390.6" cy="48.5" r="0.8" fill="#E54FA0"/>
<text x="399.1" y="50.2" font-size="4.5" fill="#222">AO</text>
<path d="M383.5 53.1H397.7" stroke="#000000" stroke-width="1.5"/>
<circle cx="390.6" cy="53.1" r="0.8" fill="#000000"/>
<text x="399.1" y="54.8" font-size="4.5" fill="#222">EGBO</text>
<text x="79.5" class="t" y="146.7" font-size="5.4" font-weight="bold" text-anchor="middle" fill="#222">F4</text>
<rect x="21.5" y="148.5" width="115.9" height="110.9" fill="#fff" stroke="#a8a8a8" stroke-width="0.6"/>
<path d="M43.7 259.4v-1.2M43.7 148.5v1.2" stroke="#a8a8a8" stroke-width="0.5"/>
<text x="43.7" y="265.0" font-size="4.6" text-anchor="middle" fill="#3a3a3a">20</text>
<path d="M67.2 259.4v-1.2M67.2 148.5v1.2" stroke="#a8a8a8" stroke-width="0.5"/>
<text x="67.2" y="265.0" font-size="4.6" text-anchor="middle" fill="#3a3a3a">40</text>
<path d="M90.6 259.4v-1.2M90.6 148.5v1.2" stroke="#a8a8a8" stroke-width="0.5"/>
<text x="90.6" y="265.0" font-size="4.6" text-anchor="middle" fill="#3a3a3a">60</text>
<path d="M114.0 259.4v-1.2M114.0 148.5v1.2" stroke="#a8a8a8" stroke-width="0.5"/>
<text x="114.0" y="265.0" font-size="4.6" text-anchor="middle" fill="#3a3a3a">80</text>
<path d="M137.4 259.4v-1.2M137.4 148.5v1.2" stroke="#a8a8a8" stroke-width="0.5"/>
<text x="137.4" y="265.0" font-size="4.6" text-anchor="middle" fill="#3a3a3a">100</text>
<path d="M21.5 241.0h1.2M137.4 241.0h-1.2" stroke="#a8a8a8" stroke-width="0.5"/>
<text x="19.7" y="242.7" font-size="4.6" text-anchor="end" fill="#3a3a3a">2</text>
<path d="M21.5 223.5h1.2M137.4 223.5h-1.2" stroke="#a8a8a8" stroke-width="0.5"/>
<text x="19.7" y="225.2" font-size="4.6" text-anchor="end" fill="#3a3a3a">2.5</text>
<path d="M21.5 206.1h1.2M137.4 206.1h-1.2" stroke="#a8a8a8" stroke-width="0.5"/>
<text x="19.7" y="207.7" font-size="4.6" text-anchor="end" fill="#3a3a3a">3</text>
<path d="M21.5 188.6h1.2M137.4 188.6h-1.2" stroke="#a8a8a8" stroke-width="0.5"/>
<text x="19.7" y="190.3" font-size="4.6" text-anchor="end" fill="#3a3a3a">3.5</text>
<path d="M21.5 171.2h1.2M137.4 171.2h-1.2" stroke="#a8a8a8" stroke-width="0.5"/>
<text x="19.7" y="172.8" font-size="4.6" text-anchor="end" fill="#3a3a3a">4</text>
<path d="M21.5 153.7h1.2M137.4 153.7h-1.2" stroke="#a8a8a8" stroke-width="0.5"/>
<text x="19.7" y="155.3" font-size="4.6" text-anchor="end" fill="#3a3a3a">4.5</text>
<text x="79.5" y="271.2" font-size="5.3" text-anchor="middle" fill="#3a3a3a">Iteration</text>
<text transform="translate(10.8 203.9) rotate(-90)" x="0" y="0" font-size="5.3" text-anchor="middle" fill="#3a3a3a">Fitness value</text>
<clipPath id="cF4"><rect x="21.5" y="147.5" width="116.4" height="112.4"/></clipPath>
<g clip-path="url(#cF4)" fill="none" stroke-linejoin="round">
<path d="M21.5 157.6 L22.9 182.0 L25.7 182.8 L27.8 198.1 L33.4 198.1 L35.5 200.2 L36.9 205.6 L39.7 220.3 L47.4 221.0 L50.9 223.8 L55.8 223.8 L57.9 228.7 L62.8 231.5 L66.3 234.3 L71.1 235.7 L73.9 238.5 L79.5 238.6 L84.1 240.9 L90.2 241.7 L97.7 243.2 L105.3 245.5 L114.4 248.2 L137.4 249.7" stroke="#E8641E" stroke-width="1.2"/>
<circle cx="21.5" cy="157.6" r="0.85" fill="#E8641E" stroke="none"/>
<circle cx="33.2" cy="198.1" r="0.85" fill="#E8641E" stroke="none"/>
<circle cx="44.9" cy="220.8" r="0.85" fill="#E8641E" stroke="none"/>
<circle cx="56.6" cy="225.7" r="0.85" fill="#E8641E" stroke="none"/>
<circle cx="68.3" cy="234.9" r="0.85" fill="#E8641E" stroke="none"/>
<circle cx="80.0" cy="238.9" r="0.85" fill="#E8641E" stroke="none"/>
<circle cx="91.7" cy="242.0" r="0.85" fill="#E8641E" stroke="none"/>
<circle cx="103.4" cy="244.9" r="0.85" fill="#E8641E" stroke="none"/>
<circle cx="115.2" cy="248.2" r="0.85" fill="#E8641E" stroke="none"/>
<circle cx="126.9" cy="249.0" r="0.85" fill="#E8641E" stroke="none"/>
<path d="M21.5 153.4 L26.4 158.3 L29.9 162.5 L37.6 168.1 L46.0 171.6 L50.2 175.1 L54.4 180.7 L58.6 183.5 L62.8 184.9 L71.1 185.2 L114.4 185.6 L128.0 186.7 L132.6 189.0 L137.4 192.0" stroke="#EDB120" stroke-width="1.2"/>
<circle cx="21.5" cy="153.4" r="0.85" fill="#EDB120" stroke="none"/>
<circle cx="33.2" cy="164.9" r="0.85" fill="#EDB120" stroke="none"/>
<circle cx="44.9" cy="171.1" r="0.85" fill="#EDB120" stroke="none"/>
<circle cx="56.6" cy="182.2" r="0.85" fill="#EDB120" stroke="none"/>
<circle cx="68.3" cy="185.1" r="0.85" fill="#EDB120" stroke="none"/>
<circle cx="80.0" cy="185.3" r="0.85" fill="#EDB120" stroke="none"/>
<circle cx="91.7" cy="185.4" r="0.85" fill="#EDB120" stroke="none"/>
<circle cx="103.4" cy="185.5" r="0.85" fill="#EDB120" stroke="none"/>
<circle cx="115.2" cy="185.7" r="0.85" fill="#EDB120" stroke="none"/>
<circle cx="126.9" cy="186.6" r="0.85" fill="#EDB120" stroke="none"/>
<path d="M21.5 158.3 L23.6 161.1 L25.7 169.5 L28.5 175.8 L32.0 182.8 L34.1 191.2 L36.9 195.3 L39.7 202.3 L41.1 204.0 L46.0 207.7 L50.9 214.0 L54.4 216.1 L57.2 220.3 L62.1 225.2 L66.3 228.0 L70.5 230.8 L74.0 233.6 L78.0 235.5 L81.1 239.1 L87.1 240.9 L93.2 245.5 L99.2 248.5 L105.3 250.8 L112.9 253.0 L120.5 255.3 L128.0 256.4 L137.4 257.3" stroke="#7E2F8E" stroke-width="1.2"/>
<circle cx="21.5" cy="158.3" r="0.85" fill="#7E2F8E" stroke="none"/>
<circle cx="33.2" cy="187.6" r="0.85" fill="#7E2F8E" stroke="none"/>
<circle cx="44.9" cy="206.9" r="0.85" fill="#7E2F8E" stroke="none"/>
<circle cx="56.6" cy="219.4" r="0.85" fill="#7E2F8E" stroke="none"/>
<circle cx="68.3" cy="229.4" r="0.85" fill="#7E2F8E" stroke="none"/>
<circle cx="80.0" cy="237.9" r="0.85" fill="#7E2F8E" stroke="none"/>
<circle cx="91.7" cy="244.4" r="0.85" fill="#7E2F8E" stroke="none"/>
<circle cx="103.4" cy="250.1" r="0.85" fill="#7E2F8E" stroke="none"/>
<circle cx="115.2" cy="253.7" r="0.85" fill="#7E2F8E" stroke="none"/>
<circle cx="126.9" cy="256.2" r="0.85" fill="#7E2F8E" stroke="none"/>
<path d="M21.5 154.1 L23.6 155.5 L30.6 156.2 L32.0 163.2 L39.0 164.6 L43.9 166.7 L46.0 169.5 L51.6 170.9 L56.5 173.0 L60.0 177.2 L63.5 182.8 L67.7 182.8 L72.5 184.9 L74.0 191.2 L79.5 193.5 L81.8 196.5 L84.1 197.3 L86.4 200.3 L88.6 204.3 L93.2 206.1 L97.7 207.6 L101.5 209.1 L103.8 212.1 L106.1 216.7 L107.6 219.7 L112.9 221.2 L116.7 223.5 L120.5 225.8 L125.0 231.1 L128.0 232.6 L131.8 234.1 L134.8 236.4 L137.4 237.1" stroke="#77AC30" stroke-width="1.2"/>
<circle cx="21.5" cy="154.1" r="0.85" fill="#77AC30" stroke="none"/>
<circle cx="33.2" cy="163.4" r="0.85" fill="#77AC30" stroke="none"/>
<circle cx="44.9" cy="168.1" r="0.85" fill="#77AC30" stroke="none"/>
<circle cx="56.6" cy="173.1" r="0.85" fill="#77AC30" stroke="none"/>
<circle cx="68.3" cy="183.1" r="0.85" fill="#77AC30" stroke="none"/>
<circle cx="80.0" cy="194.2" r="0.85" fill="#77AC30" stroke="none"/>
<circle cx="91.7" cy="205.5" r="0.85" fill="#77AC30" stroke="none"/>
<circle cx="103.4" cy="211.6" r="0.85" fill="#77AC30" stroke="none"/>
<circle cx="115.2" cy="222.6" r="0.85" fill="#77AC30" stroke="none"/>
<circle cx="126.9" cy="232.0" r="0.85" fill="#77AC30" stroke="none"/>
<path d="M21.5 150.9 L39.0 151.3 L41.8 153.4 L45.3 158.3 L48.8 159.7 L51.6 163.2 L53.7 165.3 L55.8 168.1 L60.0 170.2 L62.8 178.6 L64.2 180.7 L71.1 180.7 L74.0 182.0 L78.0 186.0 L79.5 188.9 L81.0 195.0 L83.3 200.0 L86.4 203.8 L90.2 209.1 L92.4 212.9 L96.2 216.4 L137.4 216.7" stroke="#4DBEEE" stroke-width="1.2"/>
<circle cx="21.5" cy="150.9" r="0.85" fill="#4DBEEE" stroke="none"/>
<circle cx="33.2" cy="151.2" r="0.85" fill="#4DBEEE" stroke="none"/>
<circle cx="44.9" cy="157.8" r="0.85" fill="#4DBEEE" stroke="none"/>
<circle cx="56.6" cy="168.5" r="0.85" fill="#4DBEEE" stroke="none"/>
<circle cx="68.3" cy="180.7" r="0.85" fill="#4DBEEE" stroke="none"/>
<circle cx="80.0" cy="191.1" r="0.85" fill="#4DBEEE" stroke="none"/>
<circle cx="91.7" cy="211.8" r="0.85" fill="#4DBEEE" stroke="none"/>
<circle cx="103.4" cy="216.5" r="0.85" fill="#4DBEEE" stroke="none"/>
<circle cx="115.2" cy="216.5" r="0.85" fill="#4DBEEE" stroke="none"/>
<circle cx="126.9" cy="216.6" r="0.85" fill="#4DBEEE" stroke="none"/>
<path d="M21.5 152.7 L23.6 154.8 L27.1 161.8 L30.6 163.9 L33.4 164.6 L36.2 170.9 L38.3 173.0 L40.4 173.7 L43.2 185.6 L48.1 187.0 L50.2 190.5 L52.3 191.2 L55.8 196.0 L60.0 197.4 L62.8 200.2 L63.5 205.0 L65.6 208.4 L66.3 223.0 L90.9 223.0 L93.9 224.2 L96.2 231.1 L101.5 231.8 L105.3 234.1 L107.6 237.1 L128.8 237.9 L131.1 241.7 L137.4 242.4" stroke="#A2142F" stroke-width="1.2"/>
<circle cx="21.5" cy="152.7" r="0.85" fill="#A2142F" stroke="none"/>
<circle cx="33.2" cy="164.6" r="0.85" fill="#A2142F" stroke="none"/>
<circle cx="44.9" cy="186.1" r="0.85" fill="#A2142F" stroke="none"/>
<circle cx="56.6" cy="196.3" r="0.85" fill="#A2142F" stroke="none"/>
<circle cx="68.3" cy="223.0" r="0.85" fill="#A2142F" stroke="none"/>
<circle cx="80.0" cy="223.0" r="0.85" fill="#A2142F" stroke="none"/>
<circle cx="91.7" cy="223.3" r="0.85" fill="#A2142F" stroke="none"/>
<circle cx="103.4" cy="233.0" r="0.85" fill="#A2142F" stroke="none"/>
<circle cx="115.2" cy="237.4" r="0.85" fill="#A2142F" stroke="none"/>
<circle cx="126.9" cy="237.8" r="0.85" fill="#A2142F" stroke="none"/>
<path d="M21.5 147.8 L22.2 153.4 L24.3 155.5 L26.4 156.2 L28.5 158.3 L30.6 161.1 L33.4 164.6 L37.6 169.5 L60.0 169.5 L61.4 173.0 L62.1 189.8 L102.3 189.7 L104.5 194.2 L106.1 196.5 L106.8 200.0 L107.6 208.3 L110.6 211.4 L135.6 212.1 L137.4 212.9" stroke="#E54FA0" stroke-width="1.2"/>
<circle cx="21.5" cy="147.8" r="0.85" fill="#E54FA0" stroke="none"/>
<circle cx="33.2" cy="164.4" r="0.85" fill="#E54FA0" stroke="none"/>
<circle cx="44.9" cy="169.5" r="0.85" fill="#E54FA0" stroke="none"/>
<circle cx="56.6" cy="169.5" r="0.85" fill="#E54FA0" stroke="none"/>
<circle cx="68.3" cy="189.8" r="0.85" fill="#E54FA0" stroke="none"/>
<circle cx="80.0" cy="189.8" r="0.85" fill="#E54FA0" stroke="none"/>
<circle cx="91.7" cy="189.7" r="0.85" fill="#E54FA0" stroke="none"/>
<circle cx="103.4" cy="192.1" r="0.85" fill="#E54FA0" stroke="none"/>
<circle cx="115.2" cy="211.5" r="0.85" fill="#E54FA0" stroke="none"/>
<circle cx="126.9" cy="211.9" r="0.85" fill="#E54FA0" stroke="none"/>
<path d="M21.5 156.2 L23.6 163.2 L25.7 173.0 L28.5 178.6 L30.6 185.6 L32.7 191.9 L34.8 195.3 L36.9 202.3 L37.6 204.9 L40.4 208.4 L42.5 211.9 L46.0 214.7 L50.2 218.9 L55.8 221.0 L57.9 231.5 L59.3 237.8 L66.3 239.2 L69.7 241.3 L73.2 243.4 L76.0 245.5 L84.1 245.5 L93.2 246.2 L96.2 250.0 L99.2 253.0 L103.8 256.1 L112.9 257.3 L120.5 258.3 L137.4 259.1" stroke="#000000" stroke-width="1.35"/>
<circle cx="21.5" cy="156.2" r="0.85" fill="#000000" stroke="none"/>
<circle cx="33.2" cy="192.7" r="0.85" fill="#000000" stroke="none"/>
<circle cx="44.9" cy="213.8" r="0.85" fill="#000000" stroke="none"/>
<circle cx="56.6" cy="225.1" r="0.85" fill="#000000" stroke="none"/>
<circle cx="68.3" cy="240.5" r="0.85" fill="#000000" stroke="none"/>
<circle cx="80.0" cy="245.5" r="0.85" fill="#000000" stroke="none"/>
<circle cx="91.7" cy="246.1" r="0.85" fill="#000000" stroke="none"/>
<circle cx="103.4" cy="255.9" r="0.85" fill="#000000" stroke="none"/>
<circle cx="115.2" cy="257.6" r="0.85" fill="#000000" stroke="none"/>
<circle cx="126.9" cy="258.6" r="0.85" fill="#000000" stroke="none"/>
</g>
<path d="M104.1 159.8H118.0" stroke="#E8641E" stroke-width="1.1"/>
<circle cx="111.0" cy="159.8" r="0.8" fill="#E8641E"/>
<text x="119.7" y="161.5" font-size="4.5" fill="#222">GBO</text>
<path d="M104.1 164.4H118.0" stroke="#EDB120" stroke-width="1.1"/>
<circle cx="111.0" cy="164.4" r="0.8" fill="#EDB120"/>
<text x="119.7" y="166.1" font-size="4.5" fill="#222">PSO</text>
<path d="M104.1 169.1H118.0" stroke="#7E2F8E" stroke-width="1.1"/>
<circle cx="111.0" cy="169.1" r="0.8" fill="#7E2F8E"/>
<text x="119.7" y="170.8" font-size="4.5" fill="#222">GA</text>
<path d="M104.1 173.7H118.0" stroke="#77AC30" stroke-width="1.1"/>
<circle cx="111.0" cy="173.7" r="0.8" fill="#77AC30"/>
<text x="119.7" y="175.4" font-size="4.5" fill="#222">MFO</text>
<path d="M104.1 178.4H118.0" stroke="#4DBEEE" stroke-width="1.1"/>
<circle cx="111.0" cy="178.4" r="0.8" fill="#4DBEEE"/>
<text x="119.7" y="180.1" font-size="4.5" fill="#222">DA</text>
<path d="M104.1 183.0H118.0" stroke="#A2142F" stroke-width="1.1"/>
<circle cx="111.0" cy="183.0" r="0.8" fill="#A2142F"/>
<text x="119.7" y="184.7" font-size="4.5" fill="#222">DE</text>
<path d="M104.1 187.6H118.0" stroke="#E54FA0" stroke-width="1.1"/>
<circle cx="111.0" cy="187.6" r="0.8" fill="#E54FA0"/>
<text x="119.7" y="189.3" font-size="4.5" fill="#222">AO</text>
<path d="M104.1 192.3H118.0" stroke="#000000" stroke-width="1.5"/>
<circle cx="111.0" cy="192.3" r="0.8" fill="#000000"/>
<text x="119.7" y="194.0" font-size="4.5" fill="#222">EGBO</text>
<text x="219.0" class="t" y="146.6" font-size="5.4" font-weight="bold" text-anchor="middle" fill="#222">F5</text>
<rect x="161.0" y="148.4" width="116.0" height="111.0" fill="#fff" stroke="#a8a8a8" stroke-width="0.6"/>
<path d="M183.3 259.4v-1.2M183.3 148.4v1.2" stroke="#a8a8a8" stroke-width="0.5"/>
<text x="183.3" y="265.0" font-size="4.6" text-anchor="middle" fill="#3a3a3a">20</text>
<path d="M206.7 259.4v-1.2M206.7 148.4v1.2" stroke="#a8a8a8" stroke-width="0.5"/>
<text x="206.7" y="265.0" font-size="4.6" text-anchor="middle" fill="#3a3a3a">40</text>
<path d="M230.1 259.4v-1.2M230.1 148.4v1.2" stroke="#a8a8a8" stroke-width="0.5"/>
<text x="230.1" y="265.0" font-size="4.6" text-anchor="middle" fill="#3a3a3a">60</text>
<path d="M253.6 259.4v-1.2M253.6 148.4v1.2" stroke="#a8a8a8" stroke-width="0.5"/>
<text x="253.6" y="265.0" font-size="4.6" text-anchor="middle" fill="#3a3a3a">80</text>
<path d="M277.0 259.4v-1.2M277.0 148.4v1.2" stroke="#a8a8a8" stroke-width="0.5"/>
<text x="277.0" y="265.0" font-size="4.6" text-anchor="middle" fill="#3a3a3a">100</text>
<path d="M161.0 250.4h1.2M277.0 250.4h-1.2" stroke="#a8a8a8" stroke-width="0.5"/>
<text x="159.2" y="252.1" font-size="4.6" text-anchor="end" fill="#3a3a3a">0.1</text>
<path d="M161.0 239.1h1.2M277.0 239.1h-1.2" stroke="#a8a8a8" stroke-width="0.5"/>
<text x="159.2" y="240.7" font-size="4.6" text-anchor="end" fill="#3a3a3a">0.2</text>
<path d="M161.0 227.7h1.2M277.0 227.7h-1.2" stroke="#a8a8a8" stroke-width="0.5"/>
<text x="159.2" y="229.4" font-size="4.6" text-anchor="end" fill="#3a3a3a">0.3</text>
<path d="M161.0 216.4h1.2M277.0 216.4h-1.2" stroke="#a8a8a8" stroke-width="0.5"/>
<text x="159.2" y="218.1" font-size="4.6" text-anchor="end" fill="#3a3a3a">0.4</text>
<path d="M161.0 205.1h1.2M277.0 205.1h-1.2" stroke="#a8a8a8" stroke-width="0.5"/>
<text x="159.2" y="206.7" font-size="4.6" text-anchor="end" fill="#3a3a3a">0.5</text>
<path d="M161.0 193.7h1.2M277.0 193.7h-1.2" stroke="#a8a8a8" stroke-width="0.5"/>
<text x="159.2" y="195.4" font-size="4.6" text-anchor="end" fill="#3a3a3a">0.6</text>
<path d="M161.0 182.4h1.2M277.0 182.4h-1.2" stroke="#a8a8a8" stroke-width="0.5"/>
<text x="159.2" y="184.1" font-size="4.6" text-anchor="end" fill="#3a3a3a">0.7</text>
<path d="M161.0 171.1h1.2M277.0 171.1h-1.2" stroke="#a8a8a8" stroke-width="0.5"/>
<text x="159.2" y="172.7" font-size="4.6" text-anchor="end" fill="#3a3a3a">0.8</text>
<path d="M161.0 159.7h1.2M277.0 159.7h-1.2" stroke="#a8a8a8" stroke-width="0.5"/>
<text x="159.2" y="161.4" font-size="4.6" text-anchor="end" fill="#3a3a3a">0.9</text>
<path d="M161.0 148.4h1.2M277.0 148.4h-1.2" stroke="#a8a8a8" stroke-width="0.5"/>
<text x="159.2" y="150.1" font-size="4.6" text-anchor="end" fill="#3a3a3a">1</text>
<text x="219.0" y="271.2" font-size="5.3" text-anchor="middle" fill="#3a3a3a">Iteration</text>
<text transform="translate(150.3 203.9) rotate(-90)" x="0" y="0" font-size="5.3" text-anchor="middle" fill="#3a3a3a">Fitness value</text>
<clipPath id="cF5"><rect x="161.0" y="147.4" width="116.5" height="112.5"/></clipPath>
<g clip-path="url(#cF5)" fill="none" stroke-linejoin="round">
<path d="M160.8 150.6 L162.2 160.4 L163.6 173.0 L165.7 180.0 L167.8 191.2 L170.6 198.1 L172.0 201.4 L174.1 205.6 L178.3 211.2 L181.8 215.4 L184.6 217.5 L189.5 221.0 L193.0 223.8 L196.5 225.2 L200.0 226.6 L205.6 228.7 L211.1 230.1 L215.3 231.5 L219.5 232.6 L227.1 234.8 L234.7 238.6 L242.3 240.9 L249.8 243.9 L258.9 246.2 L268.0 247.7 L277.0 248.2" stroke="#E8641E" stroke-width="1.2"/>
<circle cx="161.0" cy="152.0" r="0.85" fill="#E8641E" stroke="none"/>
<circle cx="172.7" cy="202.8" r="0.85" fill="#E8641E" stroke="none"/>
<circle cx="184.4" cy="217.4" r="0.85" fill="#E8641E" stroke="none"/>
<circle cx="196.2" cy="225.1" r="0.85" fill="#E8641E" stroke="none"/>
<circle cx="207.9" cy="229.3" r="0.85" fill="#E8641E" stroke="none"/>
<circle cx="219.6" cy="232.6" r="0.85" fill="#E8641E" stroke="none"/>
<circle cx="231.3" cy="236.9" r="0.85" fill="#E8641E" stroke="none"/>
<circle cx="243.0" cy="241.2" r="0.85" fill="#E8641E" stroke="none"/>
<circle cx="254.7" cy="245.1" r="0.85" fill="#E8641E" stroke="none"/>
<circle cx="266.5" cy="247.4" r="0.85" fill="#E8641E" stroke="none"/>
<path d="M160.8 163.9 L165.0 165.3 L167.8 169.5 L169.9 178.6 L172.0 185.6 L175.5 192.6 L177.6 198.1 L181.1 201.6 L183.2 204.2 L187.4 208.4 L190.9 212.6 L193.7 216.1 L196.5 218.2 L200.0 221.0 L203.5 223.1 L207.0 225.2 L277.0 225.5" stroke="#EDB120" stroke-width="1.2"/>
<circle cx="161.0" cy="164.0" r="0.85" fill="#EDB120" stroke="none"/>
<circle cx="172.7" cy="187.0" r="0.85" fill="#EDB120" stroke="none"/>
<circle cx="184.4" cy="205.4" r="0.85" fill="#EDB120" stroke="none"/>
<circle cx="196.2" cy="217.9" r="0.85" fill="#EDB120" stroke="none"/>
<circle cx="207.9" cy="225.2" r="0.85" fill="#EDB120" stroke="none"/>
<circle cx="219.6" cy="225.3" r="0.85" fill="#EDB120" stroke="none"/>
<circle cx="231.3" cy="225.3" r="0.85" fill="#EDB120" stroke="none"/>
<circle cx="243.0" cy="225.4" r="0.85" fill="#EDB120" stroke="none"/>
<circle cx="254.7" cy="225.4" r="0.85" fill="#EDB120" stroke="none"/>
<circle cx="266.5" cy="225.5" r="0.85" fill="#EDB120" stroke="none"/>
<path d="M160.8 192.6 L162.2 198.1 L163.6 200.9 L166.4 208.4 L169.2 215.4 L172.0 218.9 L176.2 222.4 L181.8 226.6 L184.6 228.7 L187.4 229.4 L189.5 236.4 L196.5 236.4 L200.0 239.2 L204.2 242.0 L208.3 242.7 L211.8 248.3 L224.1 250.0 L233.2 252.3 L245.3 253.0 L254.4 254.2 L277.0 255.3" stroke="#7E2F8E" stroke-width="1.2"/>
<circle cx="161.0" cy="193.4" r="0.85" fill="#7E2F8E" stroke="none"/>
<circle cx="172.7" cy="219.5" r="0.85" fill="#7E2F8E" stroke="none"/>
<circle cx="184.4" cy="228.6" r="0.85" fill="#7E2F8E" stroke="none"/>
<circle cx="196.2" cy="236.4" r="0.85" fill="#7E2F8E" stroke="none"/>
<circle cx="207.9" cy="242.6" r="0.85" fill="#7E2F8E" stroke="none"/>
<circle cx="219.6" cy="249.4" r="0.85" fill="#7E2F8E" stroke="none"/>
<circle cx="231.3" cy="251.8" r="0.85" fill="#7E2F8E" stroke="none"/>
<circle cx="243.0" cy="252.9" r="0.85" fill="#7E2F8E" stroke="none"/>
<circle cx="254.7" cy="254.2" r="0.85" fill="#7E2F8E" stroke="none"/>
<circle cx="266.5" cy="254.8" r="0.85" fill="#7E2F8E" stroke="none"/>
<path d="M160.8 171.6 L163.6 175.1 L165.7 181.4 L168.5 189.8 L171.3 199.5 L172.7 207.0 L177.6 209.8 L182.5 211.2 L187.4 212.6 L193.0 214.0 L197.9 216.1 L200.7 218.9 L204.9 220.3 L208.3 223.8 L211.1 224.5 L227.1 225.0 L230.2 228.0 L237.7 229.5 L245.3 231.5 L254.4 232.1 L277.0 233.3" stroke="#77AC30" stroke-width="1.2"/>
<circle cx="161.0" cy="171.8" r="0.85" fill="#77AC30" stroke="none"/>
<circle cx="172.7" cy="207.0" r="0.85" fill="#77AC30" stroke="none"/>
<circle cx="184.4" cy="211.8" r="0.85" fill="#77AC30" stroke="none"/>
<circle cx="196.2" cy="215.4" r="0.85" fill="#77AC30" stroke="none"/>
<circle cx="207.9" cy="223.4" r="0.85" fill="#77AC30" stroke="none"/>
<circle cx="219.6" cy="224.8" r="0.85" fill="#77AC30" stroke="none"/>
<circle cx="231.3" cy="228.2" r="0.85" fill="#77AC30" stroke="none"/>
<circle cx="243.0" cy="230.9" r="0.85" fill="#77AC30" stroke="none"/>
<circle cx="254.7" cy="232.1" r="0.85" fill="#77AC30" stroke="none"/>
<circle cx="266.5" cy="232.7" r="0.85" fill="#77AC30" stroke="none"/>
<path d="M160.8 148.1 L172.7 148.1 L175.5 159.0 L179.0 164.6 L180.4 181.4 L181.8 189.8 L186.0 190.5 L189.5 193.3 L192.3 194.0 L195.1 202.3 L207.7 202.6 L211.1 208.4 L214.6 214.0 L217.3 215.9 L219.5 221.2 L222.6 224.2 L225.6 224.5 L230.2 227.3 L245.3 229.5 L249.8 237.1 L260.5 237.1 L277.0 238.3" stroke="#4DBEEE" stroke-width="1.2"/>
<circle cx="161.0" cy="148.1" r="0.85" fill="#4DBEEE" stroke="none"/>
<circle cx="172.7" cy="148.2" r="0.85" fill="#4DBEEE" stroke="none"/>
<circle cx="184.4" cy="190.2" r="0.85" fill="#4DBEEE" stroke="none"/>
<circle cx="196.2" cy="202.3" r="0.85" fill="#4DBEEE" stroke="none"/>
<circle cx="207.9" cy="202.9" r="0.85" fill="#4DBEEE" stroke="none"/>
<circle cx="219.6" cy="221.3" r="0.85" fill="#4DBEEE" stroke="none"/>
<circle cx="231.3" cy="227.5" r="0.85" fill="#4DBEEE" stroke="none"/>
<circle cx="243.0" cy="229.2" r="0.85" fill="#4DBEEE" stroke="none"/>
<circle cx="254.7" cy="237.1" r="0.85" fill="#4DBEEE" stroke="none"/>
<circle cx="266.5" cy="237.5" r="0.85" fill="#4DBEEE" stroke="none"/>
<path d="M160.8 156.2 L162.9 166.0 L163.6 178.6 L165.7 180.0 L167.1 187.0 L169.2 198.1 L172.0 202.3 L173.4 204.2 L176.2 207.0 L179.0 211.2 L183.9 218.2 L188.8 222.4 L195.8 225.2 L200.0 225.2 L205.6 225.9 L211.1 228.0 L224.1 228.0 L227.1 230.3 L234.7 231.1 L237.7 234.1 L252.9 234.1 L277.0 235.2" stroke="#A2142F" stroke-width="1.2"/>
<circle cx="161.0" cy="157.1" r="0.85" fill="#A2142F" stroke="none"/>
<circle cx="172.7" cy="203.3" r="0.85" fill="#A2142F" stroke="none"/>
<circle cx="184.4" cy="218.7" r="0.85" fill="#A2142F" stroke="none"/>
<circle cx="196.2" cy="225.2" r="0.85" fill="#A2142F" stroke="none"/>
<circle cx="207.9" cy="226.8" r="0.85" fill="#A2142F" stroke="none"/>
<circle cx="219.6" cy="228.0" r="0.85" fill="#A2142F" stroke="none"/>
<circle cx="231.3" cy="230.7" r="0.85" fill="#A2142F" stroke="none"/>
<circle cx="243.0" cy="234.1" r="0.85" fill="#A2142F" stroke="none"/>
<circle cx="254.7" cy="234.2" r="0.85" fill="#A2142F" stroke="none"/>
<circle cx="266.5" cy="234.7" r="0.85" fill="#A2142F" stroke="none"/>
<path d="M160.8 160.4 L163.6 166.0 L167.8 172.3 L169.2 181.4 L171.3 189.8 L175.5 189.8 L177.6 195.3 L178.3 197.4 L191.6 197.4 L193.0 202.3 L195.1 202.1 L196.5 205.6 L239.2 206.1 L241.5 212.1 L243.0 220.5 L245.3 222.0 L254.4 222.7 L260.5 224.2 L262.0 228.0 L271.1 228.5 L272.6 231.1 L277.0 231.5" stroke="#E54FA0" stroke-width="1.2"/>
<circle cx="161.0" cy="160.8" r="0.85" fill="#E54FA0" stroke="none"/>
<circle cx="172.7" cy="189.8" r="0.85" fill="#E54FA0" stroke="none"/>
<circle cx="184.4" cy="197.4" r="0.85" fill="#E54FA0" stroke="none"/>
<circle cx="196.2" cy="204.7" r="0.85" fill="#E54FA0" stroke="none"/>
<circle cx="207.9" cy="205.7" r="0.85" fill="#E54FA0" stroke="none"/>
<circle cx="219.6" cy="205.9" r="0.85" fill="#E54FA0" stroke="none"/>
<circle cx="231.3" cy="206.0" r="0.85" fill="#E54FA0" stroke="none"/>
<circle cx="243.0" cy="220.5" r="0.85" fill="#E54FA0" stroke="none"/>
<circle cx="254.7" cy="222.8" r="0.85" fill="#E54FA0" stroke="none"/>
<circle cx="266.5" cy="228.2" r="0.85" fill="#E54FA0" stroke="none"/>
<path d="M160.8 185.6 L162.2 205.0 L164.3 208.4 L166.4 218.2 L168.5 221.0 L173.4 222.4 L176.9 224.5 L181.1 225.9 L184.6 227.3 L187.4 230.1 L189.5 230.8 L193.7 231.5 L197.2 233.6 L200.0 237.8 L204.2 242.0 L207.0 244.1 L209.0 247.6 L210.4 251.0 L212.5 253.8 L219.5 256.8 L230.2 258.3 L277.0 259.1" stroke="#000000" stroke-width="1.35"/>
<circle cx="161.0" cy="188.4" r="0.85" fill="#000000" stroke="none"/>
<circle cx="172.7" cy="222.2" r="0.85" fill="#000000" stroke="none"/>
<circle cx="184.4" cy="227.2" r="0.85" fill="#000000" stroke="none"/>
<circle cx="196.2" cy="233.0" r="0.85" fill="#000000" stroke="none"/>
<circle cx="207.9" cy="245.6" r="0.85" fill="#000000" stroke="none"/>
<circle cx="219.6" cy="256.8" r="0.85" fill="#000000" stroke="none"/>
<circle cx="231.3" cy="258.3" r="0.85" fill="#000000" stroke="none"/>
<circle cx="243.0" cy="258.5" r="0.85" fill="#000000" stroke="none"/>
<circle cx="254.7" cy="258.7" r="0.85" fill="#000000" stroke="none"/>
<circle cx="266.5" cy="258.9" r="0.85" fill="#000000" stroke="none"/>
</g>
<path d="M243.3 159.5H257.5" stroke="#E8641E" stroke-width="1.1"/>
<circle cx="250.4" cy="159.5" r="0.8" fill="#E8641E"/>
<text x="259.1" y="161.2" font-size="4.5" fill="#222">GBO</text>
<path d="M243.3 164.1H257.5" stroke="#EDB120" stroke-width="1.1"/>
<circle cx="250.4" cy="164.1" r="0.8" fill="#EDB120"/>
<text x="259.1" y="165.8" font-size="4.5" fill="#222">PSO</text>
<path d="M243.3 168.7H257.5" stroke="#7E2F8E" stroke-width="1.1"/>
<circle cx="250.4" cy="168.7" r="0.8" fill="#7E2F8E"/>
<text x="259.1" y="170.4" font-size="4.5" fill="#222">GA</text>
<path d="M243.3 173.3H257.5" stroke="#77AC30" stroke-width="1.1"/>
<circle cx="250.4" cy="173.3" r="0.8" fill="#77AC30"/>
<text x="259.1" y="175.0" font-size="4.5" fill="#222">MFO</text>
<path d="M243.3 177.9H257.5" stroke="#4DBEEE" stroke-width="1.1"/>
<circle cx="250.4" cy="177.9" r="0.8" fill="#4DBEEE"/>
<text x="259.1" y="179.6" font-size="4.5" fill="#222">DA</text>
<path d="M243.3 182.6H257.5" stroke="#A2142F" stroke-width="1.1"/>
<circle cx="250.4" cy="182.6" r="0.8" fill="#A2142F"/>
<text x="259.1" y="184.2" font-size="4.5" fill="#222">DE</text>
<path d="M243.3 187.2H257.5" stroke="#E54FA0" stroke-width="1.1"/>
<circle cx="250.4" cy="187.2" r="0.8" fill="#E54FA0"/>
<text x="259.1" y="188.9" font-size="4.5" fill="#222">AO</text>
<path d="M243.3 191.8H257.5" stroke="#000000" stroke-width="1.5"/>
<circle cx="250.4" cy="191.8" r="0.8" fill="#000000"/>
<text x="259.1" y="193.5" font-size="4.5" fill="#222">EGBO</text>
<text x="359.9" class="t" y="146.6" font-size="5.4" font-weight="bold" text-anchor="middle" fill="#222">F6</text>
<rect x="303.3" y="148.4" width="113.2" height="110.9" fill="#fff" stroke="#a8a8a8" stroke-width="0.6"/>
<path d="M325.0 259.3v-1.2M325.0 148.4v1.2" stroke="#a8a8a8" stroke-width="0.5"/>
<text x="325.0" y="264.9" font-size="4.6" text-anchor="middle" fill="#3a3a3a">20</text>
<path d="M347.9 259.3v-1.2M347.9 148.4v1.2" stroke="#a8a8a8" stroke-width="0.5"/>
<text x="347.9" y="264.9" font-size="4.6" text-anchor="middle" fill="#3a3a3a">40</text>
<path d="M370.8 259.3v-1.2M370.8 148.4v1.2" stroke="#a8a8a8" stroke-width="0.5"/>
<text x="370.8" y="264.9" font-size="4.6" text-anchor="middle" fill="#3a3a3a">60</text>
<path d="M393.6 259.3v-1.2M393.6 148.4v1.2" stroke="#a8a8a8" stroke-width="0.5"/>
<text x="393.6" y="264.9" font-size="4.6" text-anchor="middle" fill="#3a3a3a">80</text>
<path d="M416.5 259.3v-1.2M416.5 148.4v1.2" stroke="#a8a8a8" stroke-width="0.5"/>
<text x="416.5" y="264.9" font-size="4.6" text-anchor="middle" fill="#3a3a3a">100</text>
<path d="M303.3 243.6h1.2M416.5 243.6h-1.2" stroke="#a8a8a8" stroke-width="0.5"/>
<text x="301.5" y="245.2" font-size="4.6" text-anchor="end" fill="#3a3a3a">0.95</text>
<path d="M303.3 225.0h1.2M416.5 225.0h-1.2" stroke="#a8a8a8" stroke-width="0.5"/>
<text x="301.5" y="226.6" font-size="4.6" text-anchor="end" fill="#3a3a3a">1</text>
<path d="M303.3 206.4h1.2M416.5 206.4h-1.2" stroke="#a8a8a8" stroke-width="0.5"/>
<text x="301.5" y="208.0" font-size="4.6" text-anchor="end" fill="#3a3a3a">1.05</text>
<path d="M303.3 187.7h1.2M416.5 187.7h-1.2" stroke="#a8a8a8" stroke-width="0.5"/>
<text x="301.5" y="189.4" font-size="4.6" text-anchor="end" fill="#3a3a3a">1.1</text>
<path d="M303.3 169.1h1.2M416.5 169.1h-1.2" stroke="#a8a8a8" stroke-width="0.5"/>
<text x="301.5" y="170.8" font-size="4.6" text-anchor="end" fill="#3a3a3a">1.15</text>
<path d="M303.3 150.5h1.2M416.5 150.5h-1.2" stroke="#a8a8a8" stroke-width="0.5"/>
<text x="301.5" y="152.2" font-size="4.6" text-anchor="end" fill="#3a3a3a">1.2</text>
<text x="359.9" y="271.1" font-size="5.3" text-anchor="middle" fill="#3a3a3a">Iteration</text>
<text transform="translate(290.3 203.9) rotate(-90)" x="0" y="0" font-size="5.3" text-anchor="middle" fill="#3a3a3a">Fitness value</text>
<clipPath id="cF6"><rect x="303.3" y="147.4" width="113.7" height="112.4"/></clipPath>
<g clip-path="url(#cF6)" fill="none" stroke-linejoin="round">
<path d="M303.5 152.0 L304.9 158.3 L307.7 162.5 L309.8 168.1 L311.2 172.3 L314.7 173.0 L328.0 173.0 L330.8 174.4 L334.3 179.3 L336.4 182.7 L416.5 182.9" stroke="#E8641E" stroke-width="1.2"/>
<circle cx="303.3" cy="152.0" r="0.85" fill="#E8641E" stroke="none"/>
<circle cx="314.7" cy="173.0" r="0.85" fill="#E8641E" stroke="none"/>
<circle cx="326.2" cy="173.0" r="0.85" fill="#E8641E" stroke="none"/>
<circle cx="337.6" cy="182.7" r="0.85" fill="#E8641E" stroke="none"/>
<circle cx="349.0" cy="182.7" r="0.85" fill="#E8641E" stroke="none"/>
<circle cx="360.5" cy="182.8" r="0.85" fill="#E8641E" stroke="none"/>
<circle cx="371.9" cy="182.8" r="0.85" fill="#E8641E" stroke="none"/>
<circle cx="383.3" cy="182.8" r="0.85" fill="#E8641E" stroke="none"/>
<circle cx="394.8" cy="182.8" r="0.85" fill="#E8641E" stroke="none"/>
<circle cx="406.2" cy="182.9" r="0.85" fill="#E8641E" stroke="none"/>
<path d="M303.5 168.8 L309.1 169.5 L311.2 188.4 L325.2 188.4 L337.8 189.1 L343.4 195.3 L344.8 198.1 L348.3 198.5 L378.5 198.5 L379.2 208.3 L406.5 208.8 L411.1 209.8 L413.3 212.1 L416.5 212.4" stroke="#EDB120" stroke-width="1.2"/>
<circle cx="303.3" cy="168.8" r="0.85" fill="#EDB120" stroke="none"/>
<circle cx="314.7" cy="188.4" r="0.85" fill="#EDB120" stroke="none"/>
<circle cx="326.2" cy="188.5" r="0.85" fill="#EDB120" stroke="none"/>
<circle cx="337.6" cy="189.1" r="0.85" fill="#EDB120" stroke="none"/>
<circle cx="349.0" cy="198.5" r="0.85" fill="#EDB120" stroke="none"/>
<circle cx="360.5" cy="198.5" r="0.85" fill="#EDB120" stroke="none"/>
<circle cx="371.9" cy="198.5" r="0.85" fill="#EDB120" stroke="none"/>
<circle cx="383.3" cy="208.4" r="0.85" fill="#EDB120" stroke="none"/>
<circle cx="394.8" cy="208.6" r="0.85" fill="#EDB120" stroke="none"/>
<circle cx="406.2" cy="208.8" r="0.85" fill="#EDB120" stroke="none"/>
<path d="M303.5 161.8 L305.6 173.0 L307.7 177.2 L309.8 177.2 L310.5 191.2 L313.3 191.2 L314.7 194.7 L315.4 206.3 L320.3 206.3 L323.8 210.5 L326.6 214.0 L328.7 218.2 L330.1 224.1 L341.3 224.5 L342.7 228.7 L370.9 229.1 L372.4 231.1 L377.0 231.1 L378.5 241.7 L416.5 241.7" stroke="#7E2F8E" stroke-width="1.2"/>
<circle cx="303.3" cy="161.8" r="0.85" fill="#7E2F8E" stroke="none"/>
<circle cx="314.7" cy="195.3" r="0.85" fill="#7E2F8E" stroke="none"/>
<circle cx="326.2" cy="213.5" r="0.85" fill="#7E2F8E" stroke="none"/>
<circle cx="337.6" cy="224.4" r="0.85" fill="#7E2F8E" stroke="none"/>
<circle cx="349.0" cy="228.8" r="0.85" fill="#7E2F8E" stroke="none"/>
<circle cx="360.5" cy="229.0" r="0.85" fill="#7E2F8E" stroke="none"/>
<circle cx="371.9" cy="230.4" r="0.85" fill="#7E2F8E" stroke="none"/>
<circle cx="383.3" cy="241.7" r="0.85" fill="#7E2F8E" stroke="none"/>
<circle cx="394.8" cy="241.7" r="0.85" fill="#7E2F8E" stroke="none"/>
<circle cx="406.2" cy="241.7" r="0.85" fill="#7E2F8E" stroke="none"/>
<path d="M303.5 158.3 L312.6 158.3 L314.0 170.2 L337.8 170.9 L339.2 173.0 L339.9 191.2 L341.3 194.0 L349.0 194.0 L351.7 196.0 L354.5 197.4 L356.5 198.0 L364.1 198.8 L365.6 204.0 L378.5 205.3 L381.5 214.4 L390.6 215.2 L391.4 227.3 L393.6 230.3 L397.4 232.6 L400.5 240.2 L404.2 241.7 L408.0 243.9 L411.8 250.0 L416.5 252.3" stroke="#77AC30" stroke-width="1.2"/>
<circle cx="303.3" cy="158.3" r="0.85" fill="#77AC30" stroke="none"/>
<circle cx="314.7" cy="170.2" r="0.85" fill="#77AC30" stroke="none"/>
<circle cx="326.2" cy="170.6" r="0.85" fill="#77AC30" stroke="none"/>
<circle cx="337.6" cy="170.9" r="0.85" fill="#77AC30" stroke="none"/>
<circle cx="349.0" cy="194.0" r="0.85" fill="#77AC30" stroke="none"/>
<circle cx="360.5" cy="198.4" r="0.85" fill="#77AC30" stroke="none"/>
<circle cx="371.9" cy="204.6" r="0.85" fill="#77AC30" stroke="none"/>
<circle cx="383.3" cy="214.6" r="0.85" fill="#77AC30" stroke="none"/>
<circle cx="394.8" cy="231.0" r="0.85" fill="#77AC30" stroke="none"/>
<circle cx="406.2" cy="242.9" r="0.85" fill="#77AC30" stroke="none"/>
<path d="M303.5 168.8 L307.7 168.8 L310.5 173.7 L319.6 173.7 L321.0 200.0 L321.7 209.8 L323.1 210.5 L380.0 210.9 L381.5 213.6 L382.3 228.0 L391.4 229.5 L395.2 232.6 L396.7 249.2 L399.7 250.0 L402.0 259.1 L416.5 259.1" stroke="#4DBEEE" stroke-width="1.2"/>
<circle cx="303.3" cy="168.8" r="0.85" fill="#4DBEEE" stroke="none"/>
<circle cx="314.7" cy="173.7" r="0.85" fill="#4DBEEE" stroke="none"/>
<circle cx="326.2" cy="210.5" r="0.85" fill="#4DBEEE" stroke="none"/>
<circle cx="337.6" cy="210.6" r="0.85" fill="#4DBEEE" stroke="none"/>
<circle cx="349.0" cy="210.7" r="0.85" fill="#4DBEEE" stroke="none"/>
<circle cx="360.5" cy="210.8" r="0.85" fill="#4DBEEE" stroke="none"/>
<circle cx="371.9" cy="210.8" r="0.85" fill="#4DBEEE" stroke="none"/>
<circle cx="383.3" cy="228.2" r="0.85" fill="#4DBEEE" stroke="none"/>
<circle cx="394.8" cy="232.3" r="0.85" fill="#4DBEEE" stroke="none"/>
<circle cx="406.2" cy="259.1" r="0.85" fill="#4DBEEE" stroke="none"/>
<path d="M303.5 160.4 L306.3 161.1 L309.8 161.8 L311.2 166.0 L313.3 169.5 L315.4 182.1 L320.3 182.8 L323.1 185.6 L325.2 187.7 L327.3 189.5 L339.2 189.5 L342.0 191.2 L348.3 191.2 L349.7 198.1 L357.3 198.8 L359.5 204.5 L406.5 204.5 L407.3 219.4 L416.5 219.4" stroke="#A2142F" stroke-width="1.2"/>
<circle cx="303.3" cy="160.4" r="0.85" fill="#A2142F" stroke="none"/>
<circle cx="314.7" cy="178.1" r="0.85" fill="#A2142F" stroke="none"/>
<circle cx="326.2" cy="188.5" r="0.85" fill="#A2142F" stroke="none"/>
<circle cx="337.6" cy="189.5" r="0.85" fill="#A2142F" stroke="none"/>
<circle cx="349.0" cy="194.8" r="0.85" fill="#A2142F" stroke="none"/>
<circle cx="360.5" cy="204.5" r="0.85" fill="#A2142F" stroke="none"/>
<circle cx="371.9" cy="204.5" r="0.85" fill="#A2142F" stroke="none"/>
<circle cx="383.3" cy="204.5" r="0.85" fill="#A2142F" stroke="none"/>
<circle cx="394.8" cy="204.5" r="0.85" fill="#A2142F" stroke="none"/>
<circle cx="406.2" cy="204.5" r="0.85" fill="#A2142F" stroke="none"/>
<path d="M303.5 147.8 L305.6 147.8 L306.3 153.4 L307.7 173.0 L309.1 177.2 L310.5 187.0 L311.2 205.0 L311.9 228.7 L416.5 228.5" stroke="#E54FA0" stroke-width="1.2"/>
<circle cx="303.3" cy="147.8" r="0.85" fill="#E54FA0" stroke="none"/>
<circle cx="314.7" cy="228.7" r="0.85" fill="#E54FA0" stroke="none"/>
<circle cx="326.2" cy="228.7" r="0.85" fill="#E54FA0" stroke="none"/>
<circle cx="337.6" cy="228.7" r="0.85" fill="#E54FA0" stroke="none"/>
<circle cx="349.0" cy="228.6" r="0.85" fill="#E54FA0" stroke="none"/>
<circle cx="360.5" cy="228.6" r="0.85" fill="#E54FA0" stroke="none"/>
<circle cx="371.9" cy="228.6" r="0.85" fill="#E54FA0" stroke="none"/>
<circle cx="383.3" cy="228.6" r="0.85" fill="#E54FA0" stroke="none"/>
<circle cx="394.8" cy="228.5" r="0.85" fill="#E54FA0" stroke="none"/>
<circle cx="406.2" cy="228.5" r="0.85" fill="#E54FA0" stroke="none"/>
<path d="M303.5 160.4 L304.9 164.6 L306.3 198.1 L318.2 198.1 L318.9 202.8 L319.6 216.5 L341.3 216.5 L342.7 232.2 L416.5 232.6" stroke="#000000" stroke-width="1.35"/>
<circle cx="303.3" cy="160.4" r="0.85" fill="#000000" stroke="none"/>
<circle cx="314.7" cy="198.1" r="0.85" fill="#000000" stroke="none"/>
<circle cx="326.2" cy="216.5" r="0.85" fill="#000000" stroke="none"/>
<circle cx="337.6" cy="216.5" r="0.85" fill="#000000" stroke="none"/>
<circle cx="349.0" cy="232.2" r="0.85" fill="#000000" stroke="none"/>
<circle cx="360.5" cy="232.3" r="0.85" fill="#000000" stroke="none"/>
<circle cx="371.9" cy="232.4" r="0.85" fill="#000000" stroke="none"/>
<circle cx="383.3" cy="232.4" r="0.85" fill="#000000" stroke="none"/>
<circle cx="394.8" cy="232.5" r="0.85" fill="#000000" stroke="none"/>
<circle cx="406.2" cy="232.5" r="0.85" fill="#000000" stroke="none"/>
</g>
<path d="M383.8 159.5H397.8" stroke="#E8641E" stroke-width="1.1"/>
<circle cx="390.8" cy="159.5" r="0.8" fill="#E8641E"/>
<text x="399.2" y="161.2" font-size="4.5" fill="#222">GBO</text>
<path d="M383.8 164.1H397.8" stroke="#EDB120" stroke-width="1.1"/>
<circle cx="390.8" cy="164.1" r="0.8" fill="#EDB120"/>
<text x="399.2" y="165.8" font-size="4.5" fill="#222">PSO</text>
<path d="M383.8 168.7H397.8" stroke="#7E2F8E" stroke-width="1.1"/>
<circle cx="390.8" cy="168.7" r="0.8" fill="#7E2F8E"/>
<text x="399.2" y="170.4" font-size="4.5" fill="#222">GA</text>
<path d="M383.8 173.3H397.8" stroke="#77AC30" stroke-width="1.1"/>
<circle cx="390.8" cy="173.3" r="0.8" fill="#77AC30"/>
<text x="399.2" y="175.0" font-size="4.5" fill="#222">MFO</text>
<path d="M383.8 177.9H397.8" stroke="#4DBEEE" stroke-width="1.1"/>
<circle cx="390.8" cy="177.9" r="0.8" fill="#4DBEEE"/>
<text x="399.2" y="179.6" font-size="4.5" fill="#222">DA</text>
<path d="M383.8 182.4H397.8" stroke="#A2142F" stroke-width="1.1"/>
<circle cx="390.8" cy="182.4" r="0.8" fill="#A2142F"/>
<text x="399.2" y="184.1" font-size="4.5" fill="#222">DE</text>
<path d="M383.8 187.0H397.8" stroke="#E54FA0" stroke-width="1.1"/>
<circle cx="390.8" cy="187.0" r="0.8" fill="#E54FA0"/>
<text x="399.2" y="188.7" font-size="4.5" fill="#222">AO</text>
<path d="M383.8 191.6H397.8" stroke="#000000" stroke-width="1.5"/>
<circle cx="390.8" cy="191.6" r="0.8" fill="#000000"/>
<text x="399.2" y="193.3" font-size="4.5" fill="#222">EGBO</text>
<text x="79.8" class="t" y="283.0" font-size="5.4" font-weight="bold" text-anchor="middle" fill="#222">F7</text>
<rect x="21.0" y="284.8" width="117.5" height="112.5" fill="#fff" stroke="#a8a8a8" stroke-width="0.6"/>
<path d="M43.6 397.3v-1.2M43.6 284.8v1.2" stroke="#a8a8a8" stroke-width="0.5"/>
<text x="43.6" y="402.9" font-size="4.6" text-anchor="middle" fill="#3a3a3a">20</text>
<path d="M67.3 397.3v-1.2M67.3 284.8v1.2" stroke="#a8a8a8" stroke-width="0.5"/>
<text x="67.3" y="402.9" font-size="4.6" text-anchor="middle" fill="#3a3a3a">40</text>
<path d="M91.0 397.3v-1.2M91.0 284.8v1.2" stroke="#a8a8a8" stroke-width="0.5"/>
<text x="91.0" y="402.9" font-size="4.6" text-anchor="middle" fill="#3a3a3a">60</text>
<path d="M114.8 397.3v-1.2M114.8 284.8v1.2" stroke="#a8a8a8" stroke-width="0.5"/>
<text x="114.8" y="402.9" font-size="4.6" text-anchor="middle" fill="#3a3a3a">80</text>
<path d="M138.5 397.3v-1.2M138.5 284.8v1.2" stroke="#a8a8a8" stroke-width="0.5"/>
<text x="138.5" y="402.9" font-size="4.6" text-anchor="middle" fill="#3a3a3a">100</text>
<path d="M21.0 384.3h1.2M138.5 384.3h-1.2" stroke="#a8a8a8" stroke-width="0.5"/>
<text x="19.2" y="385.9" font-size="4.6" text-anchor="end" fill="#3a3a3a">2</text>
<path d="M21.0 370.6h1.2M138.5 370.6h-1.2" stroke="#a8a8a8" stroke-width="0.5"/>
<text x="19.2" y="372.2" font-size="4.6" text-anchor="end" fill="#3a3a3a">2.2</text>
<path d="M21.0 356.9h1.2M138.5 356.9h-1.2" stroke="#a8a8a8" stroke-width="0.5"/>
<text x="19.2" y="358.5" font-size="4.6" text-anchor="end" fill="#3a3a3a">2.4</text>
<path d="M21.0 343.2h1.2M138.5 343.2h-1.2" stroke="#a8a8a8" stroke-width="0.5"/>
<text x="19.2" y="344.8" font-size="4.6" text-anchor="end" fill="#3a3a3a">2.6</text>
<path d="M21.0 329.4h1.2M138.5 329.4h-1.2" stroke="#a8a8a8" stroke-width="0.5"/>
<text x="19.2" y="331.1" font-size="4.6" text-anchor="end" fill="#3a3a3a">2.8</text>
<path d="M21.0 315.7h1.2M138.5 315.7h-1.2" stroke="#a8a8a8" stroke-width="0.5"/>
<text x="19.2" y="317.4" font-size="4.6" text-anchor="end" fill="#3a3a3a">3</text>
<path d="M21.0 302.0h1.2M138.5 302.0h-1.2" stroke="#a8a8a8" stroke-width="0.5"/>
<text x="19.2" y="303.7" font-size="4.6" text-anchor="end" fill="#3a3a3a">3.2</text>
<path d="M21.0 288.3h1.2M138.5 288.3h-1.2" stroke="#a8a8a8" stroke-width="0.5"/>
<text x="19.2" y="289.9" font-size="4.6" text-anchor="end" fill="#3a3a3a">3.4</text>
<text x="79.8" y="409.1" font-size="5.3" text-anchor="middle" fill="#3a3a3a">Iteration</text>
<text transform="translate(9.7 341.1) rotate(-90)" x="0" y="0" font-size="5.3" text-anchor="middle" fill="#3a3a3a">Fitness value</text>
<clipPath id="cF7"><rect x="21.0" y="283.8" width="118.0" height="114.0"/></clipPath>
<g clip-path="url(#cF7)" fill="none" stroke-linejoin="round">
<path d="M21.5 289.7 L24.3 292.5 L28.5 298.1 L32.0 300.2 L33.4 303.7 L51.6 304.4 L53.7 305.8 L84.8 305.8 L86.4 312.3 L115.9 312.3 L119.7 313.8 L122.7 316.8 L128.0 317.2 L129.5 344.1 L138.5 344.1" stroke="#E8641E" stroke-width="1.2"/>
<circle cx="21.0" cy="289.7" r="0.85" fill="#E8641E" stroke="none"/>
<circle cx="32.9" cy="302.4" r="0.85" fill="#E8641E" stroke="none"/>
<circle cx="44.7" cy="304.1" r="0.85" fill="#E8641E" stroke="none"/>
<circle cx="56.6" cy="305.8" r="0.85" fill="#E8641E" stroke="none"/>
<circle cx="68.5" cy="305.8" r="0.85" fill="#E8641E" stroke="none"/>
<circle cx="80.3" cy="305.8" r="0.85" fill="#E8641E" stroke="none"/>
<circle cx="92.2" cy="312.3" r="0.85" fill="#E8641E" stroke="none"/>
<circle cx="104.1" cy="312.3" r="0.85" fill="#E8641E" stroke="none"/>
<circle cx="115.9" cy="312.3" r="0.85" fill="#E8641E" stroke="none"/>
<circle cx="127.8" cy="317.2" r="0.85" fill="#E8641E" stroke="none"/>
<path d="M21.5 293.2 L22.9 305.8 L25.7 312.1 L30.6 313.5 L41.8 314.2 L43.9 328.2 L46.0 328.9 L48.1 331.0 L50.2 335.1 L53.7 338.0 L54.4 344.3 L57.2 347.8 L61.4 349.9 L66.3 352.0 L73.9 353.1 L78.0 354.1 L105.3 354.2 L138.5 354.7" stroke="#EDB120" stroke-width="1.2"/>
<circle cx="21.0" cy="293.2" r="0.85" fill="#EDB120" stroke="none"/>
<circle cx="32.9" cy="313.6" r="0.85" fill="#EDB120" stroke="none"/>
<circle cx="44.7" cy="328.5" r="0.85" fill="#EDB120" stroke="none"/>
<circle cx="56.6" cy="347.1" r="0.85" fill="#EDB120" stroke="none"/>
<circle cx="68.5" cy="352.3" r="0.85" fill="#EDB120" stroke="none"/>
<circle cx="80.3" cy="354.1" r="0.85" fill="#EDB120" stroke="none"/>
<circle cx="92.2" cy="354.2" r="0.85" fill="#EDB120" stroke="none"/>
<circle cx="104.1" cy="354.2" r="0.85" fill="#EDB120" stroke="none"/>
<circle cx="115.9" cy="354.4" r="0.85" fill="#EDB120" stroke="none"/>
<circle cx="127.8" cy="354.5" r="0.85" fill="#EDB120" stroke="none"/>
<path d="M21.5 288.3 L23.6 293.2 L25.7 298.8 L27.8 304.4 L30.6 307.9 L34.8 309.3 L38.3 313.5 L42.5 315.6 L44.6 324.0 L48.8 326.8 L51.6 333.0 L55.1 336.5 L57.2 338.0 L60.0 342.2 L62.8 345.7 L66.3 348.5 L69.7 350.6 L73.9 352.0 L76.0 354.1 L79.5 356.2 L100.8 356.9 L102.3 368.3 L106.8 375.1 L115.2 378.9 L123.5 379.7 L128.8 381.2 L131.1 382.7 L132.6 387.2 L138.5 387.2" stroke="#7E2F8E" stroke-width="1.2"/>
<circle cx="21.0" cy="288.3" r="0.85" fill="#7E2F8E" stroke="none"/>
<circle cx="32.9" cy="308.7" r="0.85" fill="#7E2F8E" stroke="none"/>
<circle cx="44.7" cy="324.1" r="0.85" fill="#7E2F8E" stroke="none"/>
<circle cx="56.6" cy="337.6" r="0.85" fill="#7E2F8E" stroke="none"/>
<circle cx="68.5" cy="349.8" r="0.85" fill="#7E2F8E" stroke="none"/>
<circle cx="80.3" cy="356.2" r="0.85" fill="#7E2F8E" stroke="none"/>
<circle cx="92.2" cy="356.6" r="0.85" fill="#7E2F8E" stroke="none"/>
<circle cx="104.1" cy="371.0" r="0.85" fill="#7E2F8E" stroke="none"/>
<circle cx="115.9" cy="379.0" r="0.85" fill="#7E2F8E" stroke="none"/>
<circle cx="127.8" cy="380.9" r="0.85" fill="#7E2F8E" stroke="none"/>
<path d="M21.5 289.7 L25.7 291.8 L27.8 296.0 L29.2 300.2 L30.6 303.0 L32.0 304.4 L36.2 307.9 L39.0 308.6 L51.6 309.3 L55.8 311.4 L60.0 314.2 L62.8 317.7 L65.6 319.8 L68.3 321.9 L71.1 323.3 L75.3 325.2 L82.6 326.7 L90.2 328.2 L105.3 330.5 L138.5 331.2" stroke="#77AC30" stroke-width="1.2"/>
<circle cx="21.0" cy="289.7" r="0.85" fill="#77AC30" stroke="none"/>
<circle cx="32.9" cy="305.1" r="0.85" fill="#77AC30" stroke="none"/>
<circle cx="44.7" cy="308.9" r="0.85" fill="#77AC30" stroke="none"/>
<circle cx="56.6" cy="311.9" r="0.85" fill="#77AC30" stroke="none"/>
<circle cx="68.5" cy="322.0" r="0.85" fill="#77AC30" stroke="none"/>
<circle cx="80.3" cy="326.2" r="0.85" fill="#77AC30" stroke="none"/>
<circle cx="92.2" cy="328.5" r="0.85" fill="#77AC30" stroke="none"/>
<circle cx="104.1" cy="330.3" r="0.85" fill="#77AC30" stroke="none"/>
<circle cx="115.9" cy="330.7" r="0.85" fill="#77AC30" stroke="none"/>
<circle cx="127.8" cy="331.0" r="0.85" fill="#77AC30" stroke="none"/>
<path d="M21.5 284.8 L22.2 290.4 L27.1 292.5 L36.2 293.2 L37.6 295.3 L53.0 296.0 L55.1 301.0 L84.1 301.7 L90.2 304.0 L94.7 305.0 L114.4 305.8 L138.5 306.0" stroke="#4DBEEE" stroke-width="1.2"/>
<circle cx="21.0" cy="284.8" r="0.85" fill="#4DBEEE" stroke="none"/>
<circle cx="32.9" cy="292.9" r="0.85" fill="#4DBEEE" stroke="none"/>
<circle cx="44.7" cy="295.6" r="0.85" fill="#4DBEEE" stroke="none"/>
<circle cx="56.6" cy="301.0" r="0.85" fill="#4DBEEE" stroke="none"/>
<circle cx="68.5" cy="301.3" r="0.85" fill="#4DBEEE" stroke="none"/>
<circle cx="80.3" cy="301.6" r="0.85" fill="#4DBEEE" stroke="none"/>
<circle cx="92.2" cy="304.4" r="0.85" fill="#4DBEEE" stroke="none"/>
<circle cx="104.1" cy="305.4" r="0.85" fill="#4DBEEE" stroke="none"/>
<circle cx="115.9" cy="305.8" r="0.85" fill="#4DBEEE" stroke="none"/>
<circle cx="127.8" cy="305.9" r="0.85" fill="#4DBEEE" stroke="none"/>
<path d="M21.5 291.1 L22.9 306.5 L29.9 306.5 L32.0 307.9 L50.2 307.9 L52.3 315.6 L65.6 315.6 L68.3 317.0 L73.2 317.7 L112.9 317.9 L115.2 321.4 L120.5 321.7 L122.0 333.5 L123.5 344.1 L130.3 344.8 L138.5 344.8" stroke="#A2142F" stroke-width="1.2"/>
<circle cx="21.0" cy="291.1" r="0.85" fill="#A2142F" stroke="none"/>
<circle cx="32.9" cy="307.9" r="0.85" fill="#A2142F" stroke="none"/>
<circle cx="44.7" cy="307.9" r="0.85" fill="#A2142F" stroke="none"/>
<circle cx="56.6" cy="315.6" r="0.85" fill="#A2142F" stroke="none"/>
<circle cx="68.5" cy="317.0" r="0.85" fill="#A2142F" stroke="none"/>
<circle cx="80.3" cy="317.7" r="0.85" fill="#A2142F" stroke="none"/>
<circle cx="92.2" cy="317.8" r="0.85" fill="#A2142F" stroke="none"/>
<circle cx="104.1" cy="317.9" r="0.85" fill="#A2142F" stroke="none"/>
<circle cx="115.9" cy="321.4" r="0.85" fill="#A2142F" stroke="none"/>
<circle cx="127.8" cy="344.5" r="0.85" fill="#A2142F" stroke="none"/>
<path d="M21.5 287.6 L23.6 293.2 L29.2 296.0 L58.6 296.0 L60.7 298.8 L68.3 298.8 L69.7 301.6 L93.2 301.7 L94.7 313.1 L101.5 313.1 L103.0 318.4 L104.5 322.2 L111.4 322.2 L113.6 338.0 L120.5 340.3 L122.0 353.2 L124.2 357.7 L138.5 357.7" stroke="#E54FA0" stroke-width="1.2"/>
<circle cx="21.0" cy="287.6" r="0.85" fill="#E54FA0" stroke="none"/>
<circle cx="32.9" cy="296.0" r="0.85" fill="#E54FA0" stroke="none"/>
<circle cx="44.7" cy="296.0" r="0.85" fill="#E54FA0" stroke="none"/>
<circle cx="56.6" cy="296.0" r="0.85" fill="#E54FA0" stroke="none"/>
<circle cx="68.5" cy="299.1" r="0.85" fill="#E54FA0" stroke="none"/>
<circle cx="80.3" cy="301.6" r="0.85" fill="#E54FA0" stroke="none"/>
<circle cx="92.2" cy="301.7" r="0.85" fill="#E54FA0" stroke="none"/>
<circle cx="104.1" cy="321.1" r="0.85" fill="#E54FA0" stroke="none"/>
<circle cx="115.9" cy="338.8" r="0.85" fill="#E54FA0" stroke="none"/>
<circle cx="127.8" cy="357.7" r="0.85" fill="#E54FA0" stroke="none"/>
<path d="M21.5 289.0 L24.3 292.5 L26.4 312.8 L51.6 313.5 L54.4 314.2 L64.2 314.4 L66.3 316.3 L72.5 317.0 L73.9 324.0 L75.3 340.0 L76.5 356.9 L99.2 357.2 L112.1 357.2 L115.2 366.0 L120.5 366.8 L124.2 370.6 L125.0 379.7 L128.0 380.4 L129.5 388.8 L131.8 394.8 L135.6 396.3 L138.5 397.3" stroke="#000000" stroke-width="1.35"/>
<circle cx="21.0" cy="289.0" r="0.85" fill="#000000" stroke="none"/>
<circle cx="32.9" cy="313.0" r="0.85" fill="#000000" stroke="none"/>
<circle cx="44.7" cy="313.3" r="0.85" fill="#000000" stroke="none"/>
<circle cx="56.6" cy="314.2" r="0.85" fill="#000000" stroke="none"/>
<circle cx="68.5" cy="316.5" r="0.85" fill="#000000" stroke="none"/>
<circle cx="80.3" cy="357.0" r="0.85" fill="#000000" stroke="none"/>
<circle cx="92.2" cy="357.1" r="0.85" fill="#000000" stroke="none"/>
<circle cx="104.1" cy="357.2" r="0.85" fill="#000000" stroke="none"/>
<circle cx="115.9" cy="366.1" r="0.85" fill="#000000" stroke="none"/>
<circle cx="127.8" cy="380.4" r="0.85" fill="#000000" stroke="none"/>
</g>
<path d="M26.1 352.8H41.0" stroke="#E8641E" stroke-width="1.1"/>
<circle cx="33.5" cy="352.8" r="0.8" fill="#E8641E"/>
<text x="41.9" y="354.5" font-size="4.5" fill="#222">GBO</text>
<path d="M26.1 357.5H41.0" stroke="#EDB120" stroke-width="1.1"/>
<circle cx="33.5" cy="357.5" r="0.8" fill="#EDB120"/>
<text x="41.9" y="359.2" font-size="4.5" fill="#222">PSO</text>
<path d="M26.1 362.2H41.0" stroke="#7E2F8E" stroke-width="1.1"/>
<circle cx="33.5" cy="362.2" r="0.8" fill="#7E2F8E"/>
<text x="41.9" y="363.9" font-size="4.5" fill="#222">GA</text>
<path d="M26.1 366.9H41.0" stroke="#77AC30" stroke-width="1.1"/>
<circle cx="33.5" cy="366.9" r="0.8" fill="#77AC30"/>
<text x="41.9" y="368.6" font-size="4.5" fill="#222">MFO</text>
<path d="M26.1 371.6H41.0" stroke="#4DBEEE" stroke-width="1.1"/>
<circle cx="33.5" cy="371.6" r="0.8" fill="#4DBEEE"/>
<text x="41.9" y="373.3" font-size="4.5" fill="#222">DA</text>
<path d="M26.1 376.4H41.0" stroke="#A2142F" stroke-width="1.1"/>
<circle cx="33.5" cy="376.4" r="0.8" fill="#A2142F"/>
<text x="41.9" y="378.1" font-size="4.5" fill="#222">DE</text>
<path d="M26.1 381.1H41.0" stroke="#E54FA0" stroke-width="1.1"/>
<circle cx="33.5" cy="381.1" r="0.8" fill="#E54FA0"/>
<text x="41.9" y="382.8" font-size="4.5" fill="#222">AO</text>
<path d="M26.1 385.8H41.0" stroke="#000000" stroke-width="1.5"/>
<circle cx="33.5" cy="385.8" r="0.8" fill="#000000"/>
<text x="41.9" y="387.5" font-size="4.5" fill="#222">EGBO</text>
<text x="222.6" class="t" y="283.0" font-size="5.4" font-weight="bold" text-anchor="middle" fill="#222">F8</text>
<rect x="165.5" y="284.8" width="114.1" height="112.7" fill="#fff" stroke="#a8a8a8" stroke-width="0.6"/>
<path d="M187.4 397.5v-1.2M187.4 284.8v1.2" stroke="#a8a8a8" stroke-width="0.5"/>
<text x="187.4" y="403.1" font-size="4.6" text-anchor="middle" fill="#3a3a3a">20</text>
<path d="M210.4 397.5v-1.2M210.4 284.8v1.2" stroke="#a8a8a8" stroke-width="0.5"/>
<text x="210.4" y="403.1" font-size="4.6" text-anchor="middle" fill="#3a3a3a">40</text>
<path d="M233.5 397.5v-1.2M233.5 284.8v1.2" stroke="#a8a8a8" stroke-width="0.5"/>
<text x="233.5" y="403.1" font-size="4.6" text-anchor="middle" fill="#3a3a3a">60</text>
<path d="M256.5 397.5v-1.2M256.5 284.8v1.2" stroke="#a8a8a8" stroke-width="0.5"/>
<text x="256.5" y="403.1" font-size="4.6" text-anchor="middle" fill="#3a3a3a">80</text>
<path d="M279.6 397.5v-1.2M279.6 284.8v1.2" stroke="#a8a8a8" stroke-width="0.5"/>
<text x="279.6" y="403.1" font-size="4.6" text-anchor="middle" fill="#3a3a3a">100</text>
<path d="M165.5 379.3h1.2M279.6 379.3h-1.2" stroke="#a8a8a8" stroke-width="0.5"/>
<text x="163.7" y="380.9" font-size="4.6" text-anchor="end" fill="#3a3a3a">0.75</text>
<path d="M165.5 355.3h1.2M279.6 355.3h-1.2" stroke="#a8a8a8" stroke-width="0.5"/>
<text x="163.7" y="356.9" font-size="4.6" text-anchor="end" fill="#3a3a3a">0.8</text>
<path d="M165.5 331.3h1.2M279.6 331.3h-1.2" stroke="#a8a8a8" stroke-width="0.5"/>
<text x="163.7" y="332.9" font-size="4.6" text-anchor="end" fill="#3a3a3a">0.85</text>
<path d="M165.5 307.3h1.2M279.6 307.3h-1.2" stroke="#a8a8a8" stroke-width="0.5"/>
<text x="163.7" y="308.9" font-size="4.6" text-anchor="end" fill="#3a3a3a">0.9</text>
<text x="222.6" y="409.3" font-size="5.3" text-anchor="middle" fill="#3a3a3a">Iteration</text>
<text transform="translate(152.2 341.1) rotate(-90)" x="0" y="0" font-size="5.3" text-anchor="middle" fill="#3a3a3a">Fitness value</text>
<clipPath id="cF8"><rect x="165.5" y="283.8" width="114.6" height="114.2"/></clipPath>
<g clip-path="url(#cF8)" fill="none" stroke-linejoin="round">
<path d="M165.5 327.5 L177.4 327.5 L178.1 329.6 L185.1 329.6 L186.5 339.3 L224.0 340.3 L258.3 340.7 L260.5 341.0 L262.0 348.4 L279.6 348.7" stroke="#E8641E" stroke-width="1.2"/>
<circle cx="165.5" cy="327.5" r="0.85" fill="#E8641E" stroke="none"/>
<circle cx="177.0" cy="327.5" r="0.85" fill="#E8641E" stroke="none"/>
<circle cx="188.6" cy="339.4" r="0.85" fill="#E8641E" stroke="none"/>
<circle cx="200.1" cy="339.7" r="0.85" fill="#E8641E" stroke="none"/>
<circle cx="211.6" cy="340.0" r="0.85" fill="#E8641E" stroke="none"/>
<circle cx="223.1" cy="340.3" r="0.85" fill="#E8641E" stroke="none"/>
<circle cx="234.7" cy="340.4" r="0.85" fill="#E8641E" stroke="none"/>
<circle cx="246.2" cy="340.6" r="0.85" fill="#E8641E" stroke="none"/>
<circle cx="257.7" cy="340.7" r="0.85" fill="#E8641E" stroke="none"/>
<circle cx="269.2" cy="348.5" r="0.85" fill="#E8641E" stroke="none"/>
<path d="M165.5 300.2 L167.6 307.2 L169.7 314.2 L171.8 326.8 L173.2 332.3 L173.9 342.9 L177.4 343.6 L178.8 351.3 L204.0 351.3 L205.4 351.5 L230.7 351.5 L232.2 361.1 L243.4 361.9 L244.9 376.1 L279.6 376.5" stroke="#EDB120" stroke-width="1.2"/>
<circle cx="165.5" cy="300.2" r="0.85" fill="#EDB120" stroke="none"/>
<circle cx="177.0" cy="343.5" r="0.85" fill="#EDB120" stroke="none"/>
<circle cx="188.6" cy="351.3" r="0.85" fill="#EDB120" stroke="none"/>
<circle cx="200.1" cy="351.3" r="0.85" fill="#EDB120" stroke="none"/>
<circle cx="211.6" cy="351.5" r="0.85" fill="#EDB120" stroke="none"/>
<circle cx="223.1" cy="351.5" r="0.85" fill="#EDB120" stroke="none"/>
<circle cx="234.7" cy="361.3" r="0.85" fill="#EDB120" stroke="none"/>
<circle cx="246.2" cy="376.1" r="0.85" fill="#EDB120" stroke="none"/>
<circle cx="257.7" cy="376.2" r="0.85" fill="#EDB120" stroke="none"/>
<circle cx="269.2" cy="376.4" r="0.85" fill="#EDB120" stroke="none"/>
<path d="M165.5 329.3 L177.4 329.3 L178.1 335.8 L183.0 336.5 L184.4 342.0 L185.1 349.2 L204.0 349.2 L206.8 350.6 L212.3 352.0 L214.4 354.8 L228.4 355.6 L240.4 356.7 L247.9 357.4 L258.3 358.9 L279.6 360.4" stroke="#7E2F8E" stroke-width="1.2"/>
<circle cx="165.5" cy="329.3" r="0.85" fill="#7E2F8E" stroke="none"/>
<circle cx="177.0" cy="329.3" r="0.85" fill="#7E2F8E" stroke="none"/>
<circle cx="188.6" cy="349.2" r="0.85" fill="#7E2F8E" stroke="none"/>
<circle cx="200.1" cy="349.2" r="0.85" fill="#7E2F8E" stroke="none"/>
<circle cx="211.6" cy="351.8" r="0.85" fill="#7E2F8E" stroke="none"/>
<circle cx="223.1" cy="355.3" r="0.85" fill="#7E2F8E" stroke="none"/>
<circle cx="234.7" cy="356.2" r="0.85" fill="#7E2F8E" stroke="none"/>
<circle cx="246.2" cy="357.2" r="0.85" fill="#7E2F8E" stroke="none"/>
<circle cx="257.7" cy="358.8" r="0.85" fill="#7E2F8E" stroke="none"/>
<circle cx="269.2" cy="359.7" r="0.85" fill="#7E2F8E" stroke="none"/>
<path d="M165.5 294.6 L168.3 295.3 L169.7 298.1 L171.1 310.0 L173.2 325.4 L175.3 328.2 L183.7 328.9 L185.1 333.7 L186.5 336.5 L208.2 337.2 L209.6 338.0 L211.7 346.4 L213.0 350.6 L227.7 352.2 L229.2 358.9 L244.9 361.9 L258.3 363.4 L279.6 365.3" stroke="#77AC30" stroke-width="1.2"/>
<circle cx="165.5" cy="294.6" r="0.85" fill="#77AC30" stroke="none"/>
<circle cx="177.0" cy="328.3" r="0.85" fill="#77AC30" stroke="none"/>
<circle cx="188.6" cy="336.6" r="0.85" fill="#77AC30" stroke="none"/>
<circle cx="200.1" cy="336.9" r="0.85" fill="#77AC30" stroke="none"/>
<circle cx="211.6" cy="346.0" r="0.85" fill="#77AC30" stroke="none"/>
<circle cx="223.1" cy="351.7" r="0.85" fill="#77AC30" stroke="none"/>
<circle cx="234.7" cy="359.9" r="0.85" fill="#77AC30" stroke="none"/>
<circle cx="246.2" cy="362.0" r="0.85" fill="#77AC30" stroke="none"/>
<circle cx="257.7" cy="363.3" r="0.85" fill="#77AC30" stroke="none"/>
<circle cx="269.2" cy="364.4" r="0.85" fill="#77AC30" stroke="none"/>
<path d="M165.5 319.1 L178.8 319.1 L180.2 326.8 L180.9 335.8 L186.5 336.5 L235.9 336.9 L237.4 341.7 L242.6 343.2 L245.6 348.4 L249.3 352.2 L253.1 353.7 L256.8 355.6 L279.6 355.9" stroke="#4DBEEE" stroke-width="1.2"/>
<circle cx="165.5" cy="319.1" r="0.85" fill="#4DBEEE" stroke="none"/>
<circle cx="177.0" cy="319.1" r="0.85" fill="#4DBEEE" stroke="none"/>
<circle cx="188.6" cy="336.5" r="0.85" fill="#4DBEEE" stroke="none"/>
<circle cx="200.1" cy="336.6" r="0.85" fill="#4DBEEE" stroke="none"/>
<circle cx="211.6" cy="336.7" r="0.85" fill="#4DBEEE" stroke="none"/>
<circle cx="223.1" cy="336.8" r="0.85" fill="#4DBEEE" stroke="none"/>
<circle cx="234.7" cy="336.9" r="0.85" fill="#4DBEEE" stroke="none"/>
<circle cx="246.2" cy="349.0" r="0.85" fill="#4DBEEE" stroke="none"/>
<circle cx="257.7" cy="355.6" r="0.85" fill="#4DBEEE" stroke="none"/>
<circle cx="269.2" cy="355.8" r="0.85" fill="#4DBEEE" stroke="none"/>
<path d="M165.5 312.1 L169.7 312.1 L171.1 326.8 L184.4 326.8 L185.1 329.6 L202.6 329.6 L203.3 339.3 L253.8 339.5 L255.3 355.2 L279.6 356.7" stroke="#A2142F" stroke-width="1.2"/>
<circle cx="165.5" cy="312.1" r="0.85" fill="#A2142F" stroke="none"/>
<circle cx="177.0" cy="326.8" r="0.85" fill="#A2142F" stroke="none"/>
<circle cx="188.6" cy="329.6" r="0.85" fill="#A2142F" stroke="none"/>
<circle cx="200.1" cy="329.6" r="0.85" fill="#A2142F" stroke="none"/>
<circle cx="211.6" cy="339.3" r="0.85" fill="#A2142F" stroke="none"/>
<circle cx="223.1" cy="339.4" r="0.85" fill="#A2142F" stroke="none"/>
<circle cx="234.7" cy="339.4" r="0.85" fill="#A2142F" stroke="none"/>
<circle cx="246.2" cy="339.5" r="0.85" fill="#A2142F" stroke="none"/>
<circle cx="257.7" cy="355.3" r="0.85" fill="#A2142F" stroke="none"/>
<circle cx="269.2" cy="356.1" r="0.85" fill="#A2142F" stroke="none"/>
<path d="M165.5 284.1 L165.9 326.5 L242.6 326.0 L244.9 327.5 L247.1 327.5 L248.6 342.5 L267.3 343.2 L269.5 344.3 L279.6 344.7" stroke="#E54FA0" stroke-width="1.2"/>
<circle cx="165.5" cy="284.1" r="0.85" fill="#E54FA0" stroke="none"/>
<circle cx="177.0" cy="326.4" r="0.85" fill="#E54FA0" stroke="none"/>
<circle cx="188.6" cy="326.4" r="0.85" fill="#E54FA0" stroke="none"/>
<circle cx="200.1" cy="326.3" r="0.85" fill="#E54FA0" stroke="none"/>
<circle cx="211.6" cy="326.2" r="0.85" fill="#E54FA0" stroke="none"/>
<circle cx="223.1" cy="326.1" r="0.85" fill="#E54FA0" stroke="none"/>
<circle cx="234.7" cy="326.1" r="0.85" fill="#E54FA0" stroke="none"/>
<circle cx="246.2" cy="327.5" r="0.85" fill="#E54FA0" stroke="none"/>
<circle cx="257.7" cy="342.8" r="0.85" fill="#E54FA0" stroke="none"/>
<circle cx="269.2" cy="344.2" r="0.85" fill="#E54FA0" stroke="none"/>
<path d="M165.5 298.8 L168.3 298.8 L170.4 310.7 L177.4 310.7 L178.1 338.0 L179.5 352.0 L237.4 352.2 L239.6 355.9 L247.1 356.2 L248.6 365.6 L250.1 370.8 L250.8 385.0 L262.8 385.0 L264.3 389.5 L265.8 392.5 L268.0 397.0 L279.6 397.4" stroke="#000000" stroke-width="1.35"/>
<circle cx="165.5" cy="298.8" r="0.85" fill="#000000" stroke="none"/>
<circle cx="177.0" cy="310.7" r="0.85" fill="#000000" stroke="none"/>
<circle cx="188.6" cy="352.0" r="0.85" fill="#000000" stroke="none"/>
<circle cx="200.1" cy="352.1" r="0.85" fill="#000000" stroke="none"/>
<circle cx="211.6" cy="352.1" r="0.85" fill="#000000" stroke="none"/>
<circle cx="223.1" cy="352.2" r="0.85" fill="#000000" stroke="none"/>
<circle cx="234.7" cy="352.2" r="0.85" fill="#000000" stroke="none"/>
<circle cx="246.2" cy="356.2" r="0.85" fill="#000000" stroke="none"/>
<circle cx="257.7" cy="385.0" r="0.85" fill="#000000" stroke="none"/>
<circle cx="269.2" cy="397.0" r="0.85" fill="#000000" stroke="none"/>
</g>
<path d="M246.1 296.5H260.8" stroke="#E8641E" stroke-width="1.1"/>
<circle cx="253.4" cy="296.5" r="0.8" fill="#E8641E"/>
<text x="262.2" y="298.2" font-size="4.5" fill="#222">GBO</text>
<path d="M246.1 301.2H260.8" stroke="#EDB120" stroke-width="1.1"/>
<circle cx="253.4" cy="301.2" r="0.8" fill="#EDB120"/>
<text x="262.2" y="302.9" font-size="4.5" fill="#222">PSO</text>
<path d="M246.1 305.8H260.8" stroke="#7E2F8E" stroke-width="1.1"/>
<circle cx="253.4" cy="305.8" r="0.8" fill="#7E2F8E"/>
<text x="262.2" y="307.5" font-size="4.5" fill="#222">GA</text>
<path d="M246.1 310.5H260.8" stroke="#77AC30" stroke-width="1.1"/>
<circle cx="253.4" cy="310.5" r="0.8" fill="#77AC30"/>
<text x="262.2" y="312.2" font-size="4.5" fill="#222">MFO</text>
<path d="M246.1 315.2H260.8" stroke="#4DBEEE" stroke-width="1.1"/>
<circle cx="253.4" cy="315.2" r="0.8" fill="#4DBEEE"/>
<text x="262.2" y="316.9" font-size="4.5" fill="#222">DA</text>
<path d="M246.1 319.9H260.8" stroke="#A2142F" stroke-width="1.1"/>
<circle cx="253.4" cy="319.9" r="0.8" fill="#A2142F"/>
<text x="262.2" y="321.6" font-size="4.5" fill="#222">DE</text>
<path d="M246.1 324.5H260.8" stroke="#E54FA0" stroke-width="1.1"/>
<circle cx="253.4" cy="324.5" r="0.8" fill="#E54FA0"/>
<text x="262.2" y="326.2" font-size="4.5" fill="#222">AO</text>
<path d="M246.1 329.2H260.8" stroke="#000000" stroke-width="1.5"/>
<circle cx="253.4" cy="329.2" r="0.8" fill="#000000"/>
<text x="262.2" y="330.9" font-size="4.5" fill="#222">EGBO</text>
<text x="362.4" class="t" y="282.5" font-size="5.4" font-weight="bold" text-anchor="middle" fill="#222">F9</text>
<rect x="303.5" y="284.3" width="117.7" height="113.1" fill="#fff" stroke="#a8a8a8" stroke-width="0.6"/>
<path d="M326.1 397.4v-1.2M326.1 284.3v1.2" stroke="#a8a8a8" stroke-width="0.5"/>
<text x="326.1" y="403.0" font-size="4.6" text-anchor="middle" fill="#3a3a3a">20</text>
<path d="M349.9 397.4v-1.2M349.9 284.3v1.2" stroke="#a8a8a8" stroke-width="0.5"/>
<text x="349.9" y="403.0" font-size="4.6" text-anchor="middle" fill="#3a3a3a">40</text>
<path d="M373.6 397.4v-1.2M373.6 284.3v1.2" stroke="#a8a8a8" stroke-width="0.5"/>
<text x="373.6" y="403.0" font-size="4.6" text-anchor="middle" fill="#3a3a3a">60</text>
<path d="M397.4 397.4v-1.2M397.4 284.3v1.2" stroke="#a8a8a8" stroke-width="0.5"/>
<text x="397.4" y="403.0" font-size="4.6" text-anchor="middle" fill="#3a3a3a">80</text>
<path d="M421.2 397.4v-1.2M421.2 284.3v1.2" stroke="#a8a8a8" stroke-width="0.5"/>
<text x="421.2" y="403.0" font-size="4.6" text-anchor="middle" fill="#3a3a3a">100</text>
<path d="M303.5 394.0h1.2M421.2 394.0h-1.2" stroke="#a8a8a8" stroke-width="0.5"/>
<text x="301.7" y="395.6" font-size="4.6" text-anchor="end" fill="#3a3a3a">0.5</text>
<path d="M303.5 378.3h1.2M421.2 378.3h-1.2" stroke="#a8a8a8" stroke-width="0.5"/>
<text x="301.7" y="380.0" font-size="4.6" text-anchor="end" fill="#3a3a3a">1</text>
<path d="M303.5 362.7h1.2M421.2 362.7h-1.2" stroke="#a8a8a8" stroke-width="0.5"/>
<text x="301.7" y="364.3" font-size="4.6" text-anchor="end" fill="#3a3a3a">1.5</text>
<path d="M303.5 347.0h1.2M421.2 347.0h-1.2" stroke="#a8a8a8" stroke-width="0.5"/>
<text x="301.7" y="348.6" font-size="4.6" text-anchor="end" fill="#3a3a3a">2</text>
<path d="M303.5 331.3h1.2M421.2 331.3h-1.2" stroke="#a8a8a8" stroke-width="0.5"/>
<text x="301.7" y="333.0" font-size="4.6" text-anchor="end" fill="#3a3a3a">2.5</text>
<path d="M303.5 315.6h1.2M421.2 315.6h-1.2" stroke="#a8a8a8" stroke-width="0.5"/>
<text x="301.7" y="317.3" font-size="4.6" text-anchor="end" fill="#3a3a3a">3</text>
<path d="M303.5 300.0h1.2M421.2 300.0h-1.2" stroke="#a8a8a8" stroke-width="0.5"/>
<text x="301.7" y="301.6" font-size="4.6" text-anchor="end" fill="#3a3a3a">3.5</text>
<path d="M303.5 284.3h1.2M421.2 284.3h-1.2" stroke="#a8a8a8" stroke-width="0.5"/>
<text x="301.7" y="285.9" font-size="4.6" text-anchor="end" fill="#3a3a3a">4</text>
<text x="362.4" y="409.2" font-size="5.3" text-anchor="middle" fill="#3a3a3a">Iteration</text>
<text transform="translate(292.7 340.9) rotate(-90)" x="0" y="0" font-size="5.3" text-anchor="middle" fill="#3a3a3a">Fitness value</text>
<clipPath id="cF9"><rect x="303.5" y="283.3" width="118.2" height="114.6"/></clipPath>
<g clip-path="url(#cF9)" fill="none" stroke-linejoin="round">
<path d="M303.5 295.3 L307.7 306.5 L311.9 314.2 L315.4 319.8 L317.5 324.0 L318.9 330.3 L322.4 332.3 L325.2 335.1 L325.9 338.0 L327.3 346.4 L329.4 349.2 L330.8 356.2 L333.6 356.9 L335.7 361.1 L340.6 363.2 L344.8 370.9 L346.2 389.7 L349.0 390.4 L421.2 393.5" stroke="#E8641E" stroke-width="1.2"/>
<circle cx="303.5" cy="295.3" r="0.85" fill="#E8641E" stroke="none"/>
<circle cx="315.4" cy="319.8" r="0.85" fill="#E8641E" stroke="none"/>
<circle cx="327.3" cy="346.3" r="0.85" fill="#E8641E" stroke="none"/>
<circle cx="339.2" cy="362.6" r="0.85" fill="#E8641E" stroke="none"/>
<circle cx="351.1" cy="390.5" r="0.85" fill="#E8641E" stroke="none"/>
<circle cx="362.9" cy="391.0" r="0.85" fill="#E8641E" stroke="none"/>
<circle cx="374.8" cy="391.5" r="0.85" fill="#E8641E" stroke="none"/>
<circle cx="386.7" cy="392.0" r="0.85" fill="#E8641E" stroke="none"/>
<circle cx="398.6" cy="392.5" r="0.85" fill="#E8641E" stroke="none"/>
<circle cx="410.5" cy="393.0" r="0.85" fill="#E8641E" stroke="none"/>
<path d="M303.5 296.0 L307.0 300.2 L311.2 305.8 L315.4 310.7 L318.2 313.5 L323.1 317.0 L328.0 320.5 L331.5 324.0 L335.0 331.0 L338.5 335.1 L342.0 337.9 L350.3 338.6 L378.9 340.6 L399.2 341.1 L403.9 342.7 L407.0 347.4 L410.1 355.2 L413.3 359.9 L421.2 360.2" stroke="#EDB120" stroke-width="1.2"/>
<circle cx="303.5" cy="296.0" r="0.85" fill="#EDB120" stroke="none"/>
<circle cx="315.4" cy="310.7" r="0.85" fill="#EDB120" stroke="none"/>
<circle cx="327.3" cy="320.0" r="0.85" fill="#EDB120" stroke="none"/>
<circle cx="339.2" cy="335.6" r="0.85" fill="#EDB120" stroke="none"/>
<circle cx="351.1" cy="338.7" r="0.85" fill="#EDB120" stroke="none"/>
<circle cx="362.9" cy="339.5" r="0.85" fill="#EDB120" stroke="none"/>
<circle cx="374.8" cy="340.3" r="0.85" fill="#EDB120" stroke="none"/>
<circle cx="386.7" cy="340.8" r="0.85" fill="#EDB120" stroke="none"/>
<circle cx="398.6" cy="341.1" r="0.85" fill="#EDB120" stroke="none"/>
<circle cx="410.5" cy="355.8" r="0.85" fill="#EDB120" stroke="none"/>
<path d="M303.5 300.2 L306.3 306.5 L308.4 312.1 L310.5 317.0 L312.6 321.2 L315.4 325.4 L318.2 330.3 L321.0 335.1 L322.4 338.0 L323.8 342.9 L327.3 345.7 L331.5 351.3 L336.4 352.7 L339.9 360.4 L343.4 365.3 L346.9 370.9 L350.3 373.0 L353.1 387.0 L355.9 389.7 L360.0 390.4 L421.2 395.0" stroke="#7E2F8E" stroke-width="1.2"/>
<circle cx="303.5" cy="300.2" r="0.85" fill="#7E2F8E" stroke="none"/>
<circle cx="315.4" cy="325.4" r="0.85" fill="#7E2F8E" stroke="none"/>
<circle cx="327.3" cy="345.7" r="0.85" fill="#7E2F8E" stroke="none"/>
<circle cx="339.2" cy="358.8" r="0.85" fill="#7E2F8E" stroke="none"/>
<circle cx="351.1" cy="376.8" r="0.85" fill="#7E2F8E" stroke="none"/>
<circle cx="362.9" cy="390.6" r="0.85" fill="#7E2F8E" stroke="none"/>
<circle cx="374.8" cy="391.5" r="0.85" fill="#7E2F8E" stroke="none"/>
<circle cx="386.7" cy="392.4" r="0.85" fill="#7E2F8E" stroke="none"/>
<circle cx="398.6" cy="393.3" r="0.85" fill="#7E2F8E" stroke="none"/>
<circle cx="410.5" cy="394.2" r="0.85" fill="#7E2F8E" stroke="none"/>
<path d="M303.5 294.6 L310.5 294.6 L315.4 296.7 L321.0 298.1 L326.6 300.9 L330.1 303.0 L333.6 308.6 L339.9 310.7 L344.8 312.8 L349.0 316.3 L354.5 318.4 L361.7 322.6 L367.2 326.5 L371.1 330.4 L375.0 333.6 L378.1 335.9 L382.8 338.3 L385.1 338.5 L387.5 343.5 L390.6 345.0 L393.7 350.5 L395.3 358.3 L400.8 359.1 L402.3 378.6 L407.0 379.4 L410.1 384.1 L412.5 388.0 L421.2 388.8" stroke="#77AC30" stroke-width="1.2"/>
<circle cx="303.5" cy="294.6" r="0.85" fill="#77AC30" stroke="none"/>
<circle cx="315.4" cy="296.7" r="0.85" fill="#77AC30" stroke="none"/>
<circle cx="327.3" cy="301.3" r="0.85" fill="#77AC30" stroke="none"/>
<circle cx="339.2" cy="310.5" r="0.85" fill="#77AC30" stroke="none"/>
<circle cx="351.1" cy="317.1" r="0.85" fill="#77AC30" stroke="none"/>
<circle cx="362.9" cy="323.5" r="0.85" fill="#77AC30" stroke="none"/>
<circle cx="374.8" cy="333.5" r="0.85" fill="#77AC30" stroke="none"/>
<circle cx="386.7" cy="341.9" r="0.85" fill="#77AC30" stroke="none"/>
<circle cx="398.6" cy="358.8" r="0.85" fill="#77AC30" stroke="none"/>
<circle cx="410.5" cy="384.8" r="0.85" fill="#77AC30" stroke="none"/>
<path d="M303.5 291.1 L305.6 291.8 L312.6 291.8 L314.0 295.3 L316.8 298.1 L321.0 301.6 L324.5 303.7 L336.4 304.4 L343.4 307.9 L351.7 307.9 L353.8 311.4 L355.2 318.4 L356.6 323.3 L361.7 325.0 L363.3 328.9 L366.4 332.0 L367.9 338.0 L369.5 360.7 L371.8 363.8 L374.2 368.5 L377.3 371.6 L381.2 373.9 L383.6 378.6 L385.9 384.9 L421.2 385.7" stroke="#4DBEEE" stroke-width="1.2"/>
<circle cx="303.5" cy="291.1" r="0.85" fill="#4DBEEE" stroke="none"/>
<circle cx="315.4" cy="296.7" r="0.85" fill="#4DBEEE" stroke="none"/>
<circle cx="327.3" cy="303.9" r="0.85" fill="#4DBEEE" stroke="none"/>
<circle cx="339.2" cy="305.8" r="0.85" fill="#4DBEEE" stroke="none"/>
<circle cx="351.1" cy="307.9" r="0.85" fill="#4DBEEE" stroke="none"/>
<circle cx="362.9" cy="328.0" r="0.85" fill="#4DBEEE" stroke="none"/>
<circle cx="374.8" cy="369.1" r="0.85" fill="#4DBEEE" stroke="none"/>
<circle cx="386.7" cy="384.9" r="0.85" fill="#4DBEEE" stroke="none"/>
<circle cx="398.6" cy="385.2" r="0.85" fill="#4DBEEE" stroke="none"/>
<circle cx="410.5" cy="385.5" r="0.85" fill="#4DBEEE" stroke="none"/>
<path d="M303.5 284.1 L304.9 286.9 L307.0 288.3 L311.2 293.9 L313.3 296.0 L314.7 314.2 L321.0 315.6 L324.5 317.0 L328.0 316.3 L330.1 322.6 L336.4 324.0 L339.2 325.4 L340.6 338.0 L341.3 342.2 L351.7 342.2 L353.1 351.3 L356.6 351.3 L358.0 379.4 L363.3 379.9 L364.8 387.2 L375.0 388.8 L376.5 391.9 L421.2 394.3" stroke="#A2142F" stroke-width="1.2"/>
<circle cx="303.5" cy="284.1" r="0.85" fill="#A2142F" stroke="none"/>
<circle cx="315.4" cy="314.4" r="0.85" fill="#A2142F" stroke="none"/>
<circle cx="327.3" cy="316.4" r="0.85" fill="#A2142F" stroke="none"/>
<circle cx="339.2" cy="325.4" r="0.85" fill="#A2142F" stroke="none"/>
<circle cx="351.1" cy="342.2" r="0.85" fill="#A2142F" stroke="none"/>
<circle cx="362.9" cy="379.9" r="0.85" fill="#A2142F" stroke="none"/>
<circle cx="374.8" cy="388.8" r="0.85" fill="#A2142F" stroke="none"/>
<circle cx="386.7" cy="392.4" r="0.85" fill="#A2142F" stroke="none"/>
<circle cx="398.6" cy="393.1" r="0.85" fill="#A2142F" stroke="none"/>
<circle cx="410.5" cy="393.7" r="0.85" fill="#A2142F" stroke="none"/>
<path d="M303.5 292.5 L307.7 305.1 L310.5 308.6 L320.3 309.3 L326.6 310.0 L328.0 312.8 L342.0 313.5 L358.7 317.7 L382.0 318.3 L388.3 319.5 L390.6 324.2 L396.1 328.9 L397.6 332.0 L399.2 343.5 L403.9 345.8 L408.6 352.8 L410.9 353.6 L416.4 353.6 L418.7 357.5 L421.2 358.3" stroke="#E54FA0" stroke-width="1.2"/>
<circle cx="303.5" cy="292.5" r="0.85" fill="#E54FA0" stroke="none"/>
<circle cx="315.4" cy="308.9" r="0.85" fill="#E54FA0" stroke="none"/>
<circle cx="327.3" cy="311.4" r="0.85" fill="#E54FA0" stroke="none"/>
<circle cx="339.2" cy="313.4" r="0.85" fill="#E54FA0" stroke="none"/>
<circle cx="351.1" cy="315.8" r="0.85" fill="#E54FA0" stroke="none"/>
<circle cx="362.9" cy="317.8" r="0.85" fill="#E54FA0" stroke="none"/>
<circle cx="374.8" cy="318.1" r="0.85" fill="#E54FA0" stroke="none"/>
<circle cx="386.7" cy="319.2" r="0.85" fill="#E54FA0" stroke="none"/>
<circle cx="398.6" cy="339.3" r="0.85" fill="#E54FA0" stroke="none"/>
<circle cx="410.5" cy="353.5" r="0.85" fill="#E54FA0" stroke="none"/>
<path d="M303.5 294.6 L305.6 305.8 L308.4 318.4 L311.2 324.0 L314.0 328.9 L316.1 335.1 L317.8 338.0 L321.0 342.2 L325.9 346.4 L327.3 358.3 L330.8 361.1 L334.3 366.0 L336.4 373.0 L337.8 387.0 L342.0 389.0 L347.6 390.0 L355.9 390.9 L369.5 392.7 L372.6 395.8 L421.2 397.1" stroke="#000000" stroke-width="1.35"/>
<circle cx="303.5" cy="294.6" r="0.85" fill="#000000" stroke="none"/>
<circle cx="315.4" cy="333.0" r="0.85" fill="#000000" stroke="none"/>
<circle cx="327.3" cy="358.1" r="0.85" fill="#000000" stroke="none"/>
<circle cx="339.2" cy="387.7" r="0.85" fill="#000000" stroke="none"/>
<circle cx="351.1" cy="390.4" r="0.85" fill="#000000" stroke="none"/>
<circle cx="362.9" cy="391.8" r="0.85" fill="#000000" stroke="none"/>
<circle cx="374.8" cy="395.9" r="0.85" fill="#000000" stroke="none"/>
<circle cx="386.7" cy="396.2" r="0.85" fill="#000000" stroke="none"/>
<circle cx="398.6" cy="396.5" r="0.85" fill="#000000" stroke="none"/>
<circle cx="410.5" cy="396.8" r="0.85" fill="#000000" stroke="none"/>
</g>
<path d="M387.3 296.5H401.8" stroke="#E8641E" stroke-width="1.1"/>
<circle cx="394.6" cy="296.5" r="0.8" fill="#E8641E"/>
<text x="403.2" y="298.2" font-size="4.5" fill="#222">GBO</text>
<path d="M387.3 301.2H401.8" stroke="#EDB120" stroke-width="1.1"/>
<circle cx="394.6" cy="301.2" r="0.8" fill="#EDB120"/>
<text x="403.2" y="302.9" font-size="4.5" fill="#222">PSO</text>
<path d="M387.3 305.9H401.8" stroke="#7E2F8E" stroke-width="1.1"/>
<circle cx="394.6" cy="305.9" r="0.8" fill="#7E2F8E"/>
<text x="403.2" y="307.6" font-size="4.5" fill="#222">GA</text>
<path d="M387.3 310.6H401.8" stroke="#77AC30" stroke-width="1.1"/>
<circle cx="394.6" cy="310.6" r="0.8" fill="#77AC30"/>
<text x="403.2" y="312.3" font-size="4.5" fill="#222">MFO</text>
<path d="M387.3 315.3H401.8" stroke="#4DBEEE" stroke-width="1.1"/>
<circle cx="394.6" cy="315.3" r="0.8" fill="#4DBEEE"/>
<text x="403.2" y="317.0" font-size="4.5" fill="#222">DA</text>
<path d="M387.3 319.9H401.8" stroke="#A2142F" stroke-width="1.1"/>
<circle cx="394.6" cy="319.9" r="0.8" fill="#A2142F"/>
<text x="403.2" y="321.6" font-size="4.5" fill="#222">DE</text>
<path d="M387.3 324.6H401.8" stroke="#E54FA0" stroke-width="1.1"/>
<circle cx="394.6" cy="324.6" r="0.8" fill="#E54FA0"/>
<text x="403.2" y="326.3" font-size="4.5" fill="#222">AO</text>
<path d="M387.3 329.3H401.8" stroke="#000000" stroke-width="1.5"/>
<circle cx="394.6" cy="329.3" r="0.8" fill="#000000"/>
<text x="403.2" y="331.0" font-size="4.5" fill="#222">EGBO</text>
<text x="222.2" class="t" y="419.6" font-size="5.4" font-weight="bold" text-anchor="middle" fill="#222">F10</text>
<rect x="166.7" y="421.4" width="111.0" height="113.1" fill="#fff" stroke="#a8a8a8" stroke-width="0.6"/>
<path d="M188.0 534.5v-1.2M188.0 421.4v1.2" stroke="#a8a8a8" stroke-width="0.5"/>
<text x="188.0" y="540.1" font-size="4.6" text-anchor="middle" fill="#3a3a3a">20</text>
<path d="M210.4 534.5v-1.2M210.4 421.4v1.2" stroke="#a8a8a8" stroke-width="0.5"/>
<text x="210.4" y="540.1" font-size="4.6" text-anchor="middle" fill="#3a3a3a">40</text>
<path d="M232.9 534.5v-1.2M232.9 421.4v1.2" stroke="#a8a8a8" stroke-width="0.5"/>
<text x="232.9" y="540.1" font-size="4.6" text-anchor="middle" fill="#3a3a3a">60</text>
<path d="M255.3 534.5v-1.2M255.3 421.4v1.2" stroke="#a8a8a8" stroke-width="0.5"/>
<text x="255.3" y="540.1" font-size="4.6" text-anchor="middle" fill="#3a3a3a">80</text>
<path d="M277.7 534.5v-1.2M277.7 421.4v1.2" stroke="#a8a8a8" stroke-width="0.5"/>
<text x="277.7" y="540.1" font-size="4.6" text-anchor="middle" fill="#3a3a3a">100</text>
<path d="M166.7 519.5h1.2M277.7 519.5h-1.2" stroke="#a8a8a8" stroke-width="0.5"/>
<text x="164.9" y="521.1" font-size="4.6" text-anchor="end" fill="#3a3a3a">1.305</text>
<path d="M166.7 501.6h1.2M277.7 501.6h-1.2" stroke="#a8a8a8" stroke-width="0.5"/>
<text x="164.9" y="503.2" font-size="4.6" text-anchor="end" fill="#3a3a3a">1.31</text>
<path d="M166.7 483.6h1.2M277.7 483.6h-1.2" stroke="#a8a8a8" stroke-width="0.5"/>
<text x="164.9" y="485.3" font-size="4.6" text-anchor="end" fill="#3a3a3a">1.315</text>
<path d="M166.7 465.7h1.2M277.7 465.7h-1.2" stroke="#a8a8a8" stroke-width="0.5"/>
<text x="164.9" y="467.3" font-size="4.6" text-anchor="end" fill="#3a3a3a">1.32</text>
<path d="M166.7 447.7h1.2M277.7 447.7h-1.2" stroke="#a8a8a8" stroke-width="0.5"/>
<text x="164.9" y="449.4" font-size="4.6" text-anchor="end" fill="#3a3a3a">1.325</text>
<path d="M166.7 429.8h1.2M277.7 429.8h-1.2" stroke="#a8a8a8" stroke-width="0.5"/>
<text x="164.9" y="431.4" font-size="4.6" text-anchor="end" fill="#3a3a3a">1.33</text>
<text x="222.2" y="546.3" font-size="5.3" text-anchor="middle" fill="#3a3a3a">Iteration</text>
<text transform="translate(149.9 477.9) rotate(-90)" x="0" y="0" font-size="5.3" text-anchor="middle" fill="#3a3a3a">Fitness value</text>
<clipPath id="cF10"><rect x="166.7" y="420.4" width="111.5" height="114.6"/></clipPath>
<g clip-path="url(#cF10)" fill="none" stroke-linejoin="round">
<path d="M166.5 462.1 L171.4 462.8 L177.7 463.5 L178.3 492.1 L277.7 492.2" stroke="#E8641E" stroke-width="1.2"/>
<circle cx="166.7" cy="462.1" r="0.85" fill="#E8641E" stroke="none"/>
<circle cx="177.9" cy="473.6" r="0.85" fill="#E8641E" stroke="none"/>
<circle cx="189.1" cy="492.1" r="0.85" fill="#E8641E" stroke="none"/>
<circle cx="200.3" cy="492.1" r="0.85" fill="#E8641E" stroke="none"/>
<circle cx="211.5" cy="492.1" r="0.85" fill="#E8641E" stroke="none"/>
<circle cx="222.8" cy="492.1" r="0.85" fill="#E8641E" stroke="none"/>
<circle cx="234.0" cy="492.2" r="0.85" fill="#E8641E" stroke="none"/>
<circle cx="245.2" cy="492.2" r="0.85" fill="#E8641E" stroke="none"/>
<circle cx="256.4" cy="492.2" r="0.85" fill="#E8641E" stroke="none"/>
<circle cx="267.6" cy="492.2" r="0.85" fill="#E8641E" stroke="none"/>
<path d="M166.5 443.2 L168.6 451.6 L172.1 451.6 L173.5 462.8 L174.2 480.4 L197.9 480.9 L198.8 487.6 L277.7 488.2" stroke="#EDB120" stroke-width="1.2"/>
<circle cx="166.7" cy="444.0" r="0.85" fill="#EDB120" stroke="none"/>
<circle cx="177.9" cy="480.5" r="0.85" fill="#EDB120" stroke="none"/>
<circle cx="189.1" cy="480.7" r="0.85" fill="#EDB120" stroke="none"/>
<circle cx="200.3" cy="487.6" r="0.85" fill="#EDB120" stroke="none"/>
<circle cx="211.5" cy="487.7" r="0.85" fill="#EDB120" stroke="none"/>
<circle cx="222.8" cy="487.8" r="0.85" fill="#EDB120" stroke="none"/>
<circle cx="234.0" cy="487.9" r="0.85" fill="#EDB120" stroke="none"/>
<circle cx="245.2" cy="488.0" r="0.85" fill="#EDB120" stroke="none"/>
<circle cx="256.4" cy="488.0" r="0.85" fill="#EDB120" stroke="none"/>
<circle cx="267.6" cy="488.1" r="0.85" fill="#EDB120" stroke="none"/>
<path d="M166.5 437.6 L167.9 451.6 L170.0 454.4 L172.1 458.6 L172.8 474.0 L173.5 478.9 L179.1 480.3 L181.2 484.5 L184.0 488.7 L186.1 492.2 L188.9 493.6 L190.3 509.7 L198.7 511.1 L200.8 512.0 L238.9 512.8 L241.9 515.0 L244.1 525.5 L256.8 526.2 L277.7 527.0" stroke="#7E2F8E" stroke-width="1.2"/>
<circle cx="166.7" cy="439.6" r="0.85" fill="#7E2F8E" stroke="none"/>
<circle cx="177.9" cy="480.0" r="0.85" fill="#7E2F8E" stroke="none"/>
<circle cx="189.1" cy="496.2" r="0.85" fill="#7E2F8E" stroke="none"/>
<circle cx="200.3" cy="511.8" r="0.85" fill="#7E2F8E" stroke="none"/>
<circle cx="211.5" cy="512.2" r="0.85" fill="#7E2F8E" stroke="none"/>
<circle cx="222.8" cy="512.5" r="0.85" fill="#7E2F8E" stroke="none"/>
<circle cx="234.0" cy="512.7" r="0.85" fill="#7E2F8E" stroke="none"/>
<circle cx="245.2" cy="525.6" r="0.85" fill="#7E2F8E" stroke="none"/>
<circle cx="256.4" cy="526.2" r="0.85" fill="#7E2F8E" stroke="none"/>
<circle cx="267.6" cy="526.6" r="0.85" fill="#7E2F8E" stroke="none"/>
<path d="M166.5 464.2 L167.9 474.0 L168.6 478.2 L171.4 478.9 L181.2 478.9 L182.6 485.2 L183.3 498.5 L195.2 499.2 L197.3 502.7 L205.0 503.4 L211.3 504.8 L213.3 509.0 L216.1 512.5 L218.2 518.8 L222.5 521.8 L227.0 525.5 L231.4 527.0 L234.4 530.0 L240.4 533.0 L247.9 533.7 L277.7 534.0" stroke="#77AC30" stroke-width="1.2"/>
<circle cx="166.7" cy="465.6" r="0.85" fill="#77AC30" stroke="none"/>
<circle cx="177.9" cy="478.9" r="0.85" fill="#77AC30" stroke="none"/>
<circle cx="189.1" cy="498.8" r="0.85" fill="#77AC30" stroke="none"/>
<circle cx="200.3" cy="503.0" r="0.85" fill="#77AC30" stroke="none"/>
<circle cx="211.5" cy="505.3" r="0.85" fill="#77AC30" stroke="none"/>
<circle cx="222.8" cy="522.0" r="0.85" fill="#77AC30" stroke="none"/>
<circle cx="234.0" cy="529.6" r="0.85" fill="#77AC30" stroke="none"/>
<circle cx="245.2" cy="533.4" r="0.85" fill="#77AC30" stroke="none"/>
<circle cx="256.4" cy="533.8" r="0.85" fill="#77AC30" stroke="none"/>
<circle cx="267.6" cy="533.9" r="0.85" fill="#77AC30" stroke="none"/>
<path d="M166.5 450.2 L170.0 458.6 L171.4 464.2 L186.7 465.6 L187.6 466.4 L190.4 469.2 L210.6 469.2 L211.3 474.7 L230.7 474.7 L232.2 480.7 L247.1 480.7 L251.6 484.4 L253.8 490.4 L256.1 497.9 L259.0 503.1 L264.3 506.1 L277.7 507.1" stroke="#4DBEEE" stroke-width="1.2"/>
<circle cx="166.7" cy="450.7" r="0.85" fill="#4DBEEE" stroke="none"/>
<circle cx="177.9" cy="464.8" r="0.85" fill="#4DBEEE" stroke="none"/>
<circle cx="189.1" cy="467.9" r="0.85" fill="#4DBEEE" stroke="none"/>
<circle cx="200.3" cy="469.2" r="0.85" fill="#4DBEEE" stroke="none"/>
<circle cx="211.5" cy="474.7" r="0.85" fill="#4DBEEE" stroke="none"/>
<circle cx="222.8" cy="474.7" r="0.85" fill="#4DBEEE" stroke="none"/>
<circle cx="234.0" cy="480.7" r="0.85" fill="#4DBEEE" stroke="none"/>
<circle cx="245.2" cy="480.7" r="0.85" fill="#4DBEEE" stroke="none"/>
<circle cx="256.4" cy="498.4" r="0.85" fill="#4DBEEE" stroke="none"/>
<circle cx="267.6" cy="506.3" r="0.85" fill="#4DBEEE" stroke="none"/>
<path d="M166.5 455.8 L167.9 462.8 L170.0 462.8 L172.1 488.0 L177.7 488.0 L179.1 492.2 L185.4 492.9 L187.5 503.4 L189.6 504.8 L197.3 505.5 L198.7 513.9 L277.7 513.6" stroke="#A2142F" stroke-width="1.2"/>
<circle cx="166.7" cy="456.8" r="0.85" fill="#A2142F" stroke="none"/>
<circle cx="177.9" cy="488.6" r="0.85" fill="#A2142F" stroke="none"/>
<circle cx="189.1" cy="504.5" r="0.85" fill="#A2142F" stroke="none"/>
<circle cx="200.3" cy="513.9" r="0.85" fill="#A2142F" stroke="none"/>
<circle cx="211.5" cy="513.9" r="0.85" fill="#A2142F" stroke="none"/>
<circle cx="222.8" cy="513.8" r="0.85" fill="#A2142F" stroke="none"/>
<circle cx="234.0" cy="513.8" r="0.85" fill="#A2142F" stroke="none"/>
<circle cx="245.2" cy="513.7" r="0.85" fill="#A2142F" stroke="none"/>
<circle cx="256.4" cy="513.7" r="0.85" fill="#A2142F" stroke="none"/>
<circle cx="267.6" cy="513.6" r="0.85" fill="#A2142F" stroke="none"/>
<path d="M166.5 420.8 L167.9 429.2 L169.3 446.0 L170.7 464.2 L171.4 474.0 L172.1 481.7 L228.4 481.5 L229.2 505.3 L277.7 505.3" stroke="#E54FA0" stroke-width="1.2"/>
<circle cx="166.7" cy="422.0" r="0.85" fill="#E54FA0" stroke="none"/>
<circle cx="177.9" cy="481.7" r="0.85" fill="#E54FA0" stroke="none"/>
<circle cx="189.1" cy="481.6" r="0.85" fill="#E54FA0" stroke="none"/>
<circle cx="200.3" cy="481.6" r="0.85" fill="#E54FA0" stroke="none"/>
<circle cx="211.5" cy="481.6" r="0.85" fill="#E54FA0" stroke="none"/>
<circle cx="222.8" cy="481.5" r="0.85" fill="#E54FA0" stroke="none"/>
<circle cx="234.0" cy="505.3" r="0.85" fill="#E54FA0" stroke="none"/>
<circle cx="245.2" cy="505.3" r="0.85" fill="#E54FA0" stroke="none"/>
<circle cx="256.4" cy="505.3" r="0.85" fill="#E54FA0" stroke="none"/>
<circle cx="267.6" cy="505.3" r="0.85" fill="#E54FA0" stroke="none"/>
<path d="M166.5 446.0 L167.9 460.0 L170.7 461.4 L173.5 465.6 L177.0 466.3 L186.7 466.0 L188.1 472.0 L197.9 472.5 L198.8 494.9 L233.7 495.2 L235.2 499.1 L277.7 499.1" stroke="#000000" stroke-width="1.35"/>
<circle cx="166.7" cy="448.0" r="0.85" fill="#000000" stroke="none"/>
<circle cx="177.9" cy="466.3" r="0.85" fill="#000000" stroke="none"/>
<circle cx="189.1" cy="472.1" r="0.85" fill="#000000" stroke="none"/>
<circle cx="200.3" cy="494.9" r="0.85" fill="#000000" stroke="none"/>
<circle cx="211.5" cy="495.0" r="0.85" fill="#000000" stroke="none"/>
<circle cx="222.8" cy="495.1" r="0.85" fill="#000000" stroke="none"/>
<circle cx="234.0" cy="495.9" r="0.85" fill="#000000" stroke="none"/>
<circle cx="245.2" cy="499.1" r="0.85" fill="#000000" stroke="none"/>
<circle cx="256.4" cy="499.1" r="0.85" fill="#000000" stroke="none"/>
<circle cx="267.6" cy="499.1" r="0.85" fill="#000000" stroke="none"/>
</g>
<path d="M244.8 432.8H259.5" stroke="#E8641E" stroke-width="1.1"/>
<circle cx="252.2" cy="432.8" r="0.8" fill="#E8641E"/>
<text x="261.1" y="434.5" font-size="4.5" fill="#222">GBO</text>
<path d="M244.8 437.5H259.5" stroke="#EDB120" stroke-width="1.1"/>
<circle cx="252.2" cy="437.5" r="0.8" fill="#EDB120"/>
<text x="261.1" y="439.2" font-size="4.5" fill="#222">PSO</text>
<path d="M244.8 442.2H259.5" stroke="#7E2F8E" stroke-width="1.1"/>
<circle cx="252.2" cy="442.2" r="0.8" fill="#7E2F8E"/>
<text x="261.1" y="443.9" font-size="4.5" fill="#222">GA</text>
<path d="M244.8 446.9H259.5" stroke="#77AC30" stroke-width="1.1"/>
<circle cx="252.2" cy="446.9" r="0.8" fill="#77AC30"/>
<text x="261.1" y="448.6" font-size="4.5" fill="#222">MFO</text>
<path d="M244.8 451.6H259.5" stroke="#4DBEEE" stroke-width="1.1"/>
<circle cx="252.2" cy="451.6" r="0.8" fill="#4DBEEE"/>
<text x="261.1" y="453.3" font-size="4.5" fill="#222">DA</text>
<path d="M244.8 456.4H259.5" stroke="#A2142F" stroke-width="1.1"/>
<circle cx="252.2" cy="456.4" r="0.8" fill="#A2142F"/>
<text x="261.1" y="458.1" font-size="4.5" fill="#222">DE</text>
<path d="M244.8 461.1H259.5" stroke="#E54FA0" stroke-width="1.1"/>
<circle cx="252.2" cy="461.1" r="0.8" fill="#E54FA0"/>
<text x="261.1" y="462.8" font-size="4.5" fill="#222">AO</text>
<path d="M244.8 465.8H259.5" stroke="#000000" stroke-width="1.5"/>
<circle cx="252.2" cy="465.8" r="0.8" fill="#000000"/>
<text x="261.1" y="467.5" font-size="4.5" fill="#222">EGBO</text>
</svg></body></html>
